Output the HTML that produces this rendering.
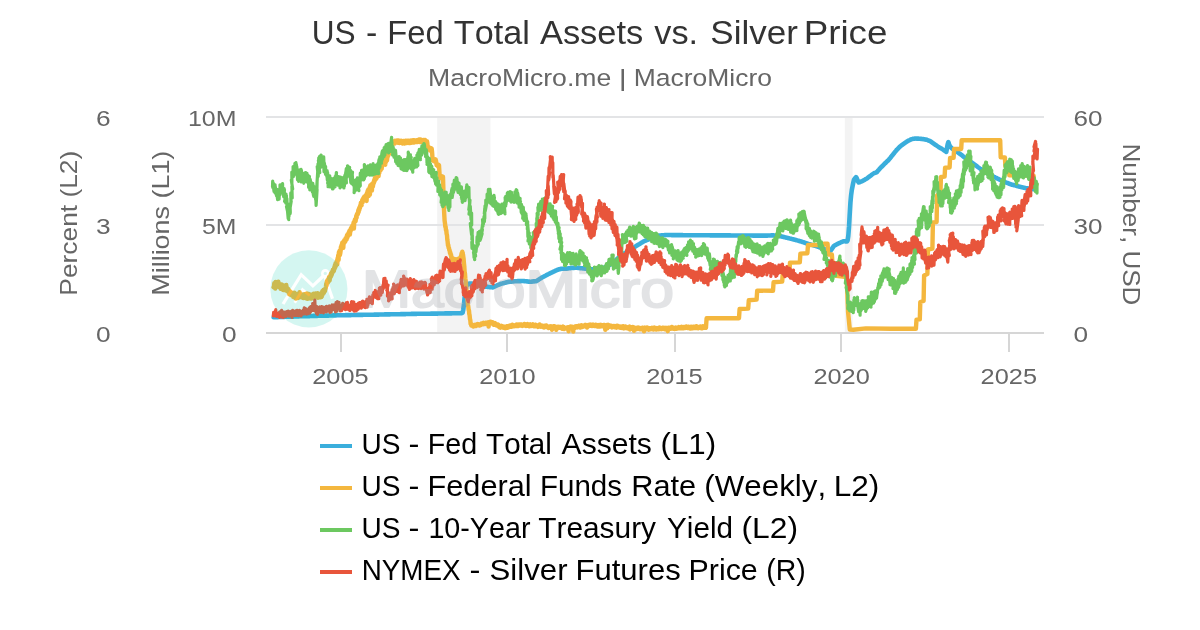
<!DOCTYPE html>
<html><head><meta charset="utf-8"><style>
html,body{margin:0;padding:0;background:#fff;width:1200px;height:630px;overflow:hidden}
svg{display:block;will-change:transform}
text{font-family:'Liberation Sans',sans-serif;font-kerning:none}
</style></head><body>
<svg width="1200" height="630" viewBox="0 0 1200 630">
<defs>
<mask id="mt" maskUnits="userSpaceOnUse" x="260" y="240" width="100" height="100">
<rect x="260" y="240" width="100" height="100" fill="#fff"/>
<polyline points="283,304 301.2,274.7 312.9,285.8 323.3,276" fill="none" stroke="#000" stroke-width="3.2"/>
<polyline points="324.6,276 332.5,298.8" fill="none" stroke="#000" stroke-width="3.2"/>
<circle cx="325.3" cy="273.4" r="3" fill="none" stroke="#000" stroke-width="2.6"/>
<polyline points="294.7,302.7 302.5,289.7 309.7,295.5" fill="none" stroke="#000" stroke-width="2.8"/>
</mask>
</defs>
<rect width="1200" height="630" fill="#ffffff"/>
<text x="311.76" y="44" font-size="33" fill="#333333" textLength="43.89" lengthAdjust="spacingAndGlyphs">US</text>
<text x="365.99" y="44" font-size="33" fill="#333333" textLength="11.32" lengthAdjust="spacingAndGlyphs">-</text>
<text x="387.31" y="44" font-size="33" fill="#333333" textLength="56.50" lengthAdjust="spacingAndGlyphs">Fed</text>
<text x="453.83" y="44" font-size="33" fill="#333333" textLength="75.95" lengthAdjust="spacingAndGlyphs">Total</text>
<text x="539.93" y="44" font-size="33" fill="#333333" textLength="103.31" lengthAdjust="spacingAndGlyphs">Assets</text>
<text x="654.38" y="44" font-size="33" fill="#333333" textLength="43.74" lengthAdjust="spacingAndGlyphs">vs.</text>
<text x="710.31" y="44" font-size="33" fill="#333333" textLength="87.57" lengthAdjust="spacingAndGlyphs">Silver</text>
<text x="803.68" y="44" font-size="33" fill="#333333" textLength="83.75" lengthAdjust="spacingAndGlyphs">Price</text>
<text x="428.12" y="86" font-size="24.5" fill="#666666" textLength="183.06" lengthAdjust="spacingAndGlyphs">MacroMicro.me</text>
<text x="618.74" y="86" font-size="24.5" fill="#666666" textLength="8.01" lengthAdjust="spacingAndGlyphs">|</text>
<text x="633.83" y="86" font-size="24.5" fill="#666666" textLength="138.08" lengthAdjust="spacingAndGlyphs">MacroMicro</text>
<!-- bands -->
<rect x="437.2" y="117" width="53.2" height="216" fill="#f3f3f3"/>
<rect x="844.8" y="117" width="7.8" height="216" fill="#f3f3f3"/>
<!-- grid -->
<g stroke="#e3e4e6" stroke-width="2">
<line x1="266" y1="117" x2="1044" y2="117"/>
<line x1="266" y1="225" x2="1044" y2="225"/>
</g>
<line x1="266" y1="333" x2="1044" y2="333" stroke="#d6d6d6" stroke-width="2"/>
<g stroke="#d6d6d6" stroke-width="2">
<line x1="341" y1="333" x2="341" y2="352"/>
<line x1="507" y1="333" x2="507" y2="352"/>
<line x1="675" y1="333" x2="675" y2="352"/>
<line x1="841" y1="333" x2="841" y2="352"/>
<line x1="1009" y1="333" x2="1009" y2="352"/>
</g>
<!-- series -->
<g fill="none" stroke-linejoin="round" stroke-linecap="round">
<polyline points="273.6,317.2 274.3,317.2 275.0,317.2 275.7,317.1 276.4,317.1 277.1,317.1 277.8,317.1 278.5,317.0 279.2,317.0 279.9,317.0 280.6,317.0 281.3,316.9 282.0,316.9 282.7,316.9 283.4,316.9 284.1,316.9 284.8,316.8 285.5,316.8 286.2,316.8 286.9,316.8 287.6,316.7 288.3,316.7 289.0,316.7 289.7,316.7 290.4,316.6 291.1,316.6 291.8,316.6 292.5,316.6 293.2,316.6 293.9,316.5 294.6,316.5 295.3,316.5 296.0,316.5 296.7,316.4 297.4,316.4 298.1,316.4 298.8,316.4 299.5,316.3 300.2,316.3 300.9,316.3 301.6,316.3 302.3,316.3 303.0,316.2 303.7,316.2 304.4,316.2 305.1,316.2 305.8,316.2 306.5,316.1 307.2,316.1 307.9,316.1 308.6,316.1 309.3,316.1 310.0,316.0 310.7,316.0 311.4,316.0 312.1,316.0 312.8,316.0 313.5,315.9 314.2,315.9 314.9,315.9 315.6,315.9 316.3,315.9 317.0,315.9 317.7,315.8 318.4,315.8 319.1,315.8 319.8,315.8 320.5,315.8 321.2,315.7 321.9,315.7 322.6,315.7 323.3,315.7 324.0,315.7 324.7,315.7 325.4,315.6 326.1,315.6 326.8,315.6 327.5,315.6 328.2,315.6 328.9,315.5 329.6,315.5 330.3,315.5 331.0,315.5 331.7,315.5 332.4,315.5 333.1,315.4 333.8,315.4 334.5,315.4 335.2,315.4 335.9,315.4 336.6,315.3 337.3,315.3 338.0,315.3 338.7,315.3 339.4,315.3 340.1,315.2 340.8,315.2 341.5,315.2 342.2,315.2 342.9,315.2 343.6,315.2 344.3,315.2 345.0,315.2 345.7,315.1 346.4,315.1 347.1,315.1 347.8,315.1 348.5,315.1 349.2,315.1 349.9,315.1 350.6,315.1 351.3,315.0 352.0,315.0 352.7,315.0 353.4,315.0 354.1,315.0 354.8,315.0 355.5,315.0 356.2,315.0 356.9,315.0 357.6,314.9 358.3,314.9 359.0,314.9 359.7,314.9 360.4,314.9 361.1,314.9 361.8,314.9 362.5,314.9 363.2,314.8 363.9,314.8 364.6,314.8 365.3,314.8 366.0,314.8 366.7,314.8 367.4,314.8 368.1,314.8 368.8,314.7 369.5,314.7 370.2,314.7 370.9,314.7 371.6,314.7 372.3,314.7 373.0,314.7 373.7,314.7 374.4,314.6 375.1,314.6 375.8,314.6 376.5,314.6 377.2,314.6 377.9,314.6 378.6,314.6 379.3,314.5 380.0,314.5 380.7,314.5 381.4,314.5 382.1,314.5 382.8,314.5 383.5,314.5 384.2,314.5 384.9,314.4 385.6,314.4 386.3,314.4 387.0,314.4 387.7,314.4 388.4,314.4 389.1,314.4 389.8,314.4 390.5,314.3 391.2,314.3 391.9,314.3 392.6,314.3 393.3,314.3 394.0,314.3 394.7,314.3 395.4,314.2 396.1,314.2 396.8,314.2 397.5,314.2 398.2,314.2 398.9,314.2 399.6,314.2 400.3,314.2 401.0,314.1 401.7,314.1 402.4,314.1 403.1,314.1 403.8,314.1 404.5,314.1 405.2,314.1 405.9,314.0 406.6,314.0 407.3,314.0 408.0,314.0 408.7,314.0 409.4,314.0 410.1,314.0 410.8,314.0 411.5,313.9 412.2,313.9 412.9,313.9 413.6,313.9 414.3,313.9 415.0,313.9 415.7,313.9 416.4,313.9 417.1,313.8 417.8,313.8 418.5,313.8 419.2,313.8 419.9,313.8 420.6,313.8 421.3,313.8 422.0,313.8 422.7,313.8 423.4,313.8 424.1,313.7 424.8,313.7 425.5,313.7 426.2,313.7 426.9,313.7 427.6,313.7 428.3,313.7 429.0,313.7 429.7,313.7 430.4,313.7 431.1,313.6 431.8,313.6 432.5,313.6 433.2,313.6 433.9,313.6 434.6,313.6 435.3,313.6 436.0,313.6 436.7,313.6 437.4,313.6 438.1,313.5 438.8,313.5 439.5,313.5 440.2,313.5 440.9,313.5 441.6,313.5 442.3,313.5 443.0,313.5 443.7,313.5 444.4,313.5 445.1,313.4 445.8,313.4 446.5,313.4 447.2,313.4 447.9,313.4 448.6,313.4 449.3,313.4 450.0,313.4 450.7,313.4 451.4,313.4 452.1,313.3 452.8,313.3 453.5,313.3 454.2,313.3 454.9,313.3 455.6,313.3 456.3,313.3 457.0,313.3 457.7,313.3 458.4,313.3 459.1,313.2 459.8,313.2 460.5,313.2 461.2,313.2 461.9,313.2 462.6,312.7 463.3,309.4 464.0,304.0 464.7,297.0 465.4,290.7 466.1,286.2 466.8,285.2 467.5,284.8 468.2,284.4 468.9,284.0 469.6,283.6 470.3,283.5 471.0,283.6 471.7,283.6 472.4,283.7 473.1,283.7 473.8,283.8 474.5,283.8 475.2,283.9 475.9,283.9 476.6,283.9 477.3,284.0 478.0,284.2 478.7,284.4 479.4,284.7 480.1,284.9 480.8,285.2 481.5,285.4 482.2,285.6 482.9,285.9 483.6,286.1 484.3,286.4 485.0,286.6 485.7,286.7 486.4,286.7 487.1,286.8 487.8,286.9 488.5,287.0 489.2,287.0 489.9,287.1 490.6,287.2 491.3,287.3 492.0,287.3 492.7,287.4 493.4,287.1 494.1,286.8 494.8,286.5 495.5,286.1 496.2,285.8 496.9,285.5 497.6,285.2 498.3,284.9 499.0,284.6 499.7,284.3 500.4,284.0 501.1,283.8 501.8,283.6 502.5,283.4 503.2,283.2 503.9,283.1 504.6,282.9 505.3,282.7 506.0,282.5 506.7,282.3 507.4,282.1 508.1,282.0 508.8,281.9 509.5,281.8 510.2,281.8 510.9,281.7 511.6,281.6 512.3,281.5 513.0,281.5 513.7,281.4 514.4,281.3 515.1,281.2 515.8,281.2 516.5,281.2 517.2,281.2 517.9,281.1 518.6,281.1 519.3,281.1 520.0,281.1 520.7,281.1 521.4,281.0 522.1,281.0 522.8,281.0 523.5,281.0 524.2,281.1 524.9,281.2 525.6,281.3 526.3,281.3 527.0,281.4 527.7,281.5 528.4,281.6 529.1,281.6 529.8,281.7 530.5,281.8 531.2,281.7 531.9,281.6 532.6,281.5 533.3,281.4 534.0,281.4 534.7,281.3 535.4,281.2 536.1,281.1 536.8,280.8 537.5,280.4 538.2,279.9 538.9,279.5 539.6,279.0 540.3,278.6 541.0,278.2 541.7,277.7 542.4,277.3 543.1,276.9 543.8,276.6 544.5,276.2 545.2,275.8 545.9,275.5 546.6,275.1 547.3,274.7 548.0,274.3 548.7,274.0 549.4,273.6 550.1,273.3 550.8,272.9 551.5,272.6 552.2,272.3 552.9,271.9 553.6,271.6 554.3,271.3 555.0,270.9 555.7,270.6 556.4,270.3 557.1,269.9 557.8,269.7 558.5,269.5 559.2,269.3 559.9,269.1 560.6,269.0 561.3,268.8 562.0,268.8 562.7,268.8 563.4,268.8 564.1,268.7 564.8,268.7 565.5,268.7 566.2,268.7 566.9,268.6 567.6,268.5 568.3,268.4 569.0,268.3 569.7,268.2 570.4,268.1 571.1,268.0 571.8,267.9 572.5,267.9 573.2,267.9 573.9,267.9 574.6,267.8 575.3,267.8 576.0,267.8 576.7,267.8 577.4,267.8 578.1,267.9 578.8,267.9 579.5,268.0 580.2,268.1 580.9,268.2 581.6,268.2 582.3,268.3 583.0,268.4 583.7,268.5 584.4,268.5 585.1,268.6 585.8,268.7 586.5,268.8 587.2,268.9 587.9,269.0 588.6,269.1 589.3,269.2 590.0,269.3 590.7,269.4 591.4,269.4 592.1,269.4 592.8,269.4 593.5,269.4 594.2,269.4 594.9,269.4 595.6,269.4 596.3,269.4 597.0,269.3 597.7,269.1 598.4,269.0 599.1,268.8 599.8,268.6 600.5,268.5 601.2,268.3 601.9,268.1 602.6,268.0 603.3,267.8 604.0,267.6 604.7,267.3 605.4,267.0 606.1,266.7 606.8,266.3 607.5,266.0 608.2,265.7 608.9,265.3 609.6,265.0 610.3,264.5 611.0,263.9 611.7,263.4 612.4,262.8 613.1,262.2 613.8,261.7 614.5,261.1 615.2,260.5 615.9,260.0 616.6,259.4 617.3,258.8 618.0,258.2 618.7,257.6 619.4,257.0 620.1,256.4 620.8,255.8 621.5,255.3 622.2,254.9 622.9,254.4 623.6,254.0 624.3,253.5 625.0,253.1 625.7,252.6 626.4,252.2 627.1,251.7 627.8,251.3 628.5,250.9 629.2,250.4 629.9,250.0 630.6,249.5 631.3,249.1 632.0,248.6 632.7,248.2 633.4,247.8 634.1,247.3 634.8,246.9 635.5,246.4 636.2,246.0 636.9,245.6 637.6,245.1 638.3,244.7 639.0,244.3 639.7,243.9 640.4,243.4 641.1,243.0 641.8,242.6 642.5,242.2 643.2,241.7 643.9,241.3 644.6,241.0 645.3,240.7 646.0,240.5 646.7,240.2 647.4,239.9 648.1,239.6 648.8,239.3 649.5,239.1 650.2,238.8 650.9,238.5 651.6,238.2 652.3,238.0 653.0,237.8 653.7,237.5 654.4,237.3 655.1,237.0 655.8,236.8 656.5,236.6 657.2,236.3 657.9,236.1 658.6,235.8 659.3,235.6 660.0,235.5 660.7,235.5 661.4,235.4 662.1,235.3 662.8,235.3 663.5,235.2 664.2,235.2 664.9,235.1 665.6,235.0 666.3,235.0 667.0,235.0 667.7,235.0 668.4,235.0 669.1,235.0 669.8,235.0 670.5,235.0 671.2,235.0 671.9,235.1 672.6,235.1 673.3,235.1 674.0,235.1 674.7,235.1 675.4,235.1 676.1,235.1 676.8,235.1 677.5,235.1 678.2,235.1 678.9,235.1 679.6,235.1 680.3,235.1 681.0,235.1 681.7,235.1 682.4,235.1 683.1,235.2 683.8,235.2 684.5,235.2 685.2,235.2 685.9,235.2 686.6,235.2 687.3,235.2 688.0,235.2 688.7,235.2 689.4,235.2 690.1,235.2 690.8,235.2 691.5,235.2 692.2,235.2 692.9,235.2 693.6,235.2 694.3,235.2 695.0,235.3 695.7,235.3 696.4,235.3 697.1,235.3 697.8,235.3 698.5,235.3 699.2,235.3 699.9,235.3 700.6,235.3 701.3,235.3 702.0,235.3 702.7,235.3 703.4,235.3 704.1,235.3 704.8,235.3 705.5,235.3 706.2,235.3 706.9,235.3 707.6,235.3 708.3,235.3 709.0,235.3 709.7,235.3 710.4,235.4 711.1,235.4 711.8,235.4 712.5,235.4 713.2,235.4 713.9,235.4 714.6,235.4 715.3,235.4 716.0,235.4 716.7,235.4 717.4,235.4 718.1,235.4 718.8,235.4 719.5,235.4 720.2,235.4 720.9,235.4 721.6,235.4 722.3,235.4 723.0,235.4 723.7,235.4 724.4,235.4 725.1,235.4 725.8,235.4 726.5,235.4 727.2,235.4 727.9,235.4 728.6,235.4 729.3,235.4 730.0,235.4 730.7,235.5 731.4,235.5 732.1,235.5 732.8,235.5 733.5,235.5 734.2,235.5 734.9,235.5 735.6,235.5 736.3,235.5 737.0,235.5 737.7,235.5 738.4,235.5 739.1,235.5 739.8,235.5 740.5,235.5 741.2,235.5 741.9,235.5 742.6,235.5 743.3,235.5 744.0,235.5 744.7,235.5 745.4,235.5 746.1,235.5 746.8,235.5 747.5,235.5 748.2,235.5 748.9,235.5 749.6,235.5 750.3,235.5 751.0,235.5 751.7,235.5 752.4,235.5 753.1,235.6 753.8,235.6 754.5,235.6 755.2,235.6 755.9,235.6 756.6,235.6 757.3,235.6 758.0,235.6 758.7,235.6 759.4,235.6 760.1,235.6 760.8,235.6 761.5,235.6 762.2,235.6 762.9,235.6 763.6,235.6 764.3,235.6 765.0,235.6 765.7,235.6 766.4,235.6 767.1,235.6 767.8,235.5 768.5,235.5 769.2,235.5 769.9,235.5 770.6,235.5 771.3,235.4 772.0,235.4 772.7,235.4 773.4,235.4 774.1,235.5 774.8,235.6 775.5,235.6 776.2,235.7 776.9,235.8 777.6,235.9 778.3,235.9 779.0,236.0 779.7,236.1 780.4,236.2 781.1,236.4 781.8,236.5 782.5,236.7 783.2,236.9 783.9,237.0 784.6,237.2 785.3,237.4 786.0,237.6 786.7,237.7 787.4,237.9 788.1,238.1 788.8,238.2 789.5,238.4 790.2,238.6 790.9,238.8 791.6,238.9 792.3,239.1 793.0,239.3 793.7,239.5 794.4,239.6 795.1,239.8 795.8,240.0 796.5,240.2 797.2,240.4 797.9,240.6 798.6,240.8 799.3,241.0 800.0,241.2 800.7,241.3 801.4,241.6 802.1,241.8 802.8,242.1 803.5,242.3 804.2,242.5 804.9,242.8 805.6,243.0 806.3,243.3 807.0,243.5 807.7,243.7 808.4,243.9 809.1,244.1 809.8,244.3 810.5,244.5 811.2,244.7 811.9,244.9 812.6,245.1 813.3,245.3 814.0,245.5 814.7,245.6 815.4,245.9 816.1,246.1 816.8,246.4 817.5,246.6 818.2,246.9 818.9,247.1 819.6,247.4 820.3,247.6 821.0,247.9 821.7,248.1 822.4,248.4 823.1,248.7 823.8,248.9 824.5,249.2 825.2,249.5 825.9,249.8 826.6,250.0 827.3,250.3 828.0,250.6 828.7,250.7 829.4,250.7 830.1,250.8 830.8,250.5 831.5,249.5 832.2,248.4 832.9,247.4 833.6,246.3 834.3,245.7 835.0,245.3 835.7,244.9 836.4,244.5 837.1,244.2 837.8,243.8 838.5,243.4 839.2,243.1 839.9,242.8 840.6,242.5 841.3,242.2 842.0,241.9 842.7,241.6 843.4,241.2 844.1,241.2 844.8,241.3 845.5,241.4 846.2,241.4 846.9,241.5 847.6,240.3 848.3,235.9 849.0,227.0 849.7,214.4 850.4,202.8 851.1,195.3 851.8,190.0 852.5,186.5 853.2,183.0 853.9,179.9 854.6,178.9 855.3,178.0 856.0,177.1 856.7,178.1 857.4,179.8 858.1,181.6 858.8,182.5 859.5,182.2 860.2,182.0 860.9,181.7 861.6,181.4 862.3,181.1 863.0,180.7 863.7,180.3 864.4,179.9 865.1,179.5 865.8,179.1 866.5,178.7 867.2,178.3 867.9,177.7 868.6,177.2 869.3,176.7 870.0,176.1 870.7,175.6 871.4,175.1 872.1,174.5 872.8,174.0 873.5,173.5 874.2,173.2 874.9,172.9 875.6,172.7 876.3,172.4 877.0,172.0 877.7,171.1 878.4,170.3 879.1,169.5 879.8,168.6 880.5,167.9 881.2,167.2 881.9,166.5 882.6,165.8 883.3,165.1 884.0,164.4 884.7,163.7 885.4,163.0 886.1,162.3 886.8,161.6 887.5,161.0 888.2,160.3 888.9,159.6 889.6,158.7 890.3,157.9 891.0,157.0 891.7,156.1 892.4,155.3 893.1,154.4 893.8,153.5 894.5,152.6 895.2,151.7 895.9,150.9 896.6,150.0 897.3,149.3 898.0,148.6 898.7,147.9 899.4,147.2 900.1,146.5 900.8,145.9 901.5,145.4 902.2,144.9 902.9,144.3 903.6,143.8 904.3,143.3 905.0,142.8 905.7,142.3 906.4,141.9 907.1,141.4 907.8,141.0 908.5,140.6 909.2,140.3 909.9,140.0 910.6,139.6 911.3,139.3 912.0,139.1 912.7,138.9 913.4,138.8 914.1,138.7 914.8,138.6 915.5,138.5 916.2,138.5 916.9,138.6 917.6,138.6 918.3,138.6 919.0,138.7 919.7,138.7 920.4,138.8 921.1,138.9 921.8,139.0 922.5,139.0 923.2,139.1 923.9,139.2 924.6,139.4 925.3,139.5 926.0,139.6 926.7,139.7 927.4,140.0 928.1,140.3 928.8,140.6 929.5,140.9 930.2,141.2 930.9,141.6 931.6,142.1 932.3,142.6 933.0,143.1 933.7,143.6 934.4,144.1 935.1,144.6 935.8,145.1 936.5,145.5 937.2,146.0 937.9,146.5 938.6,147.0 939.3,147.4 940.0,147.8 940.7,148.2 941.4,148.6 942.1,149.0 942.8,149.5 943.5,150.0 944.2,150.4 944.9,150.9 945.6,151.3 946.3,151.8 947.0,148.0 947.7,144.2 948.4,142.1 949.1,144.3 949.8,145.9 950.5,146.8 951.2,147.7 951.9,148.4 952.6,148.9 953.3,149.3 954.0,149.8 954.7,150.2 955.4,150.7 956.1,151.2 956.8,151.6 957.5,152.1 958.2,152.6 958.9,153.1 959.6,153.6 960.3,154.2 961.0,154.7 961.7,155.2 962.4,155.7 963.1,156.3 963.8,156.8 964.5,157.3 965.2,157.8 965.9,158.3 966.6,158.8 967.3,159.3 968.0,159.8 968.7,160.3 969.4,160.8 970.1,161.3 970.8,161.8 971.5,162.3 972.2,162.8 972.9,163.3 973.6,163.9 974.3,164.4 975.0,164.9 975.7,165.4 976.4,165.9 977.1,166.4 977.8,167.0 978.5,167.5 979.2,168.0 979.9,168.5 980.6,169.0 981.3,169.4 982.0,169.9 982.7,170.3 983.4,170.8 984.1,171.2 984.8,171.7 985.5,172.2 986.2,172.6 986.9,173.1 987.6,173.5 988.3,173.9 989.0,174.3 989.7,174.6 990.4,175.0 991.1,175.3 991.8,175.7 992.5,176.1 993.2,176.4 993.9,176.8 994.6,177.1 995.3,177.5 996.0,177.8 996.7,178.2 997.4,178.5 998.1,178.9 998.8,179.2 999.5,179.6 1000.2,179.9 1000.9,180.3 1001.6,180.6 1002.3,181.0 1003.0,181.3 1003.7,181.6 1004.4,181.9 1005.1,182.2 1005.8,182.4 1006.5,182.7 1007.2,182.9 1007.9,183.2 1008.6,183.5 1009.3,183.7 1010.0,184.0 1010.7,184.3 1011.4,184.5 1012.1,184.7 1012.8,184.9 1013.5,185.0 1014.2,185.2 1014.9,185.4 1015.6,185.6 1016.3,185.8 1017.0,186.0 1017.7,186.2 1018.4,186.4 1019.1,186.6 1019.8,186.7 1020.5,186.9 1021.2,187.1 1021.9,187.2 1022.6,187.4 1023.3,187.6 1024.0,187.7 1024.7,187.9 1025.4,188.1 1026.1,188.2 1026.8,188.3 1027.5,188.4 1028.2,188.5 1028.9,188.6 1029.6,188.7 1030.3,188.8 1031.0,188.9 1031.7,188.9 1032.4,189.0 1033.1,189.1 1033.8,189.2 1034.5,189.3 1035.2,189.4 1035.5,189.4" stroke="#3aaedc" stroke-width="4.6"/>
<polyline points="273.6,287.2 273.9,287.5 274.3,283.1 274.6,286.0 274.9,283.5 275.3,288.6 275.6,281.9 275.9,285.9 276.3,283.8 276.6,286.4 276.9,282.8 277.3,285.4 277.6,282.2 277.9,285.5 278.3,281.6 278.6,285.6 278.9,283.1 279.3,287.2 279.6,284.3 279.9,286.9 280.3,285.0 280.6,288.9 280.9,285.3 281.3,288.3 281.6,284.5 281.9,289.2 282.3,286.5 282.6,288.4 282.9,285.2 283.3,290.1 283.6,285.8 283.9,289.3 284.3,287.1 284.6,289.7 284.9,287.4 285.3,289.8 285.6,287.5 285.9,290.6 286.3,285.0 286.6,290.4 286.9,287.5 287.3,291.0 287.6,289.2 287.9,291.3 288.3,289.0 288.6,292.8 288.9,290.5 289.3,294.2 289.6,290.9 289.9,293.8 290.3,291.7 290.6,294.7 290.9,292.3 291.3,295.1 291.6,292.6 291.9,295.5 292.3,292.9 292.6,294.7 292.9,293.4 293.3,296.9 293.6,292.9 293.9,297.3 294.3,292.7 294.6,297.2 294.9,293.1 295.3,296.6 295.6,294.4 295.9,298.5 296.3,294.6 296.6,297.1 296.9,294.5 297.3,297.2 297.6,293.9 297.9,298.1 298.3,295.1 298.6,297.8 298.9,294.9 299.3,297.1 299.6,292.1 299.9,296.7 300.3,294.6 300.6,296.5 300.9,294.7 301.3,297.2 301.6,295.3 301.9,297.1 302.3,294.7 302.6,297.2 302.9,294.7 303.3,298.1 303.6,294.8 303.9,297.5 304.3,294.2 304.6,297.4 304.9,294.7 305.3,296.6 305.6,295.0 305.9,298.4 306.3,294.6 306.6,298.0 306.9,293.5 307.3,298.8 307.6,294.6 307.9,298.0 308.3,295.5 308.6,298.5 308.9,293.9 309.3,296.8 309.6,294.4 309.9,297.7 310.3,294.6 310.6,298.6 310.9,295.5 311.3,298.5 311.6,294.7 311.9,297.0 312.3,294.5 312.6,296.9 312.9,294.9 313.3,297.1 313.6,293.7 313.9,297.5 314.3,294.2 314.6,296.1 314.9,293.9 315.3,297.5 315.6,293.5 315.9,296.4 316.3,294.0 316.6,297.1 316.9,294.5 317.3,297.1 317.6,293.3 317.9,297.8 318.3,293.4 318.6,296.8 318.9,294.2 319.3,296.5 319.6,294.4 319.9,297.3 320.3,293.9 320.6,297.2 320.9,293.6 321.3,297.1 321.6,293.3 321.9,296.3 322.3,291.2 322.6,294.5 322.9,290.6 323.3,292.7 323.6,289.7 323.9,292.9 324.3,289.4 324.6,289.9 324.9,291.2 325.3,289.0 325.6,288.5 325.9,287.1 326.3,283.4 326.6,285.3 326.9,281.2 327.3,282.8 327.6,280.0 327.9,282.8 328.3,279.9 328.6,281.6 328.9,277.3 329.3,279.9 329.6,280.6 329.9,277.7 330.3,275.5 330.6,277.0 330.9,273.6 331.3,276.1 331.6,272.7 331.9,274.4 332.3,271.4 332.6,272.5 332.9,269.7 333.3,271.3 333.6,269.3 333.9,270.9 334.3,267.3 334.6,268.9 334.9,265.2 335.3,267.3 335.6,263.2 335.9,265.8 336.3,265.1 336.6,263.7 336.9,260.7 337.3,264.3 337.6,258.1 337.9,258.5 338.3,255.1 338.6,259.8 338.9,252.2 339.3,253.8 339.6,250.7 339.9,255.2 340.3,253.1 340.6,250.9 340.9,246.9 341.3,249.0 341.6,244.9 341.9,246.2 342.3,242.6 342.6,245.0 342.9,242.1 343.3,247.9 343.6,242.2 343.9,243.4 344.3,240.1 344.6,242.6 344.9,239.9 345.3,241.5 345.6,238.1 345.9,240.0 346.3,238.1 346.6,239.7 346.9,235.4 347.3,237.7 347.6,234.2 347.9,236.4 348.3,234.3 348.6,234.5 348.9,232.0 349.3,234.3 349.6,230.4 349.9,234.6 350.3,230.2 350.6,231.3 350.9,228.1 351.3,229.4 351.6,227.2 351.9,229.0 352.3,225.7 352.6,227.4 352.9,224.9 353.3,225.5 353.6,222.4 353.9,228.6 354.3,221.5 354.6,222.4 354.9,219.4 355.3,220.6 355.6,221.1 355.9,218.9 356.3,215.8 356.6,217.7 356.9,214.1 357.3,214.9 357.6,213.0 357.9,213.9 358.3,210.3 358.6,212.2 358.9,208.6 359.3,209.9 359.6,207.1 359.9,208.2 360.3,205.2 360.6,206.0 360.9,202.7 361.3,204.3 361.6,205.4 361.9,202.4 362.3,199.9 362.6,202.3 362.9,199.0 363.3,200.5 363.6,197.6 363.9,199.4 364.3,196.5 364.6,199.7 364.9,196.3 365.3,197.9 365.6,195.7 365.9,197.9 366.3,194.5 366.6,201.0 366.9,193.1 367.3,195.1 367.6,191.0 367.9,193.5 368.3,189.5 368.6,196.1 368.9,189.4 369.3,190.7 369.6,187.5 369.9,194.7 370.3,185.4 370.6,188.1 370.9,184.9 371.3,190.9 371.6,184.4 371.9,190.6 372.3,183.8 372.6,185.7 372.9,186.6 373.3,183.4 373.6,181.8 373.9,183.1 374.3,179.7 374.6,181.4 374.9,178.0 375.3,179.2 375.6,176.0 375.9,179.2 376.3,176.1 376.6,178.2 376.9,174.9 377.3,176.6 377.6,173.1 377.9,175.2 378.3,172.0 378.6,176.0 378.9,171.0 379.3,173.0 379.6,169.8 379.9,170.8 380.3,168.6 380.6,170.4 380.9,167.0 381.3,168.6 381.6,168.8 382.0,166.3 382.3,163.5 382.6,164.6 383.0,162.3 383.3,164.7 383.6,162.1 384.0,162.9 384.3,159.7 384.6,162.1 385.0,159.2 385.3,164.7 385.6,157.7 386.0,161.8 386.3,156.7 386.6,157.5 387.0,160.6 387.3,157.7 387.6,154.3 388.0,156.3 388.3,153.8 388.6,155.0 389.0,152.3 389.3,153.4 389.6,150.9 390.0,150.9 390.3,148.2 390.6,148.2 391.0,145.9 391.3,146.4 391.6,144.5 392.0,145.4 392.3,142.1 392.6,143.5 393.0,141.7 393.3,143.4 393.6,141.7 394.0,143.3 394.3,142.0 394.6,143.6 395.0,140.6 395.3,142.1 395.6,141.4 396.0,142.7 396.3,141.1 396.6,142.1 397.0,140.4 397.3,142.3 397.6,140.7 398.0,142.7 398.3,141.2 398.6,142.4 399.0,140.6 399.3,143.0 399.6,141.7 400.0,142.7 400.3,141.2 400.6,142.9 401.0,140.7 401.3,142.1 401.6,140.9 402.0,142.8 402.3,142.0 402.6,143.5 403.0,142.3 403.3,142.9 403.6,141.0 404.0,142.8 404.3,142.0 404.6,143.5 405.0,141.1 405.3,142.6 405.6,140.6 406.0,143.1 406.3,141.8 406.6,143.1 407.0,140.6 407.3,142.2 407.6,141.0 408.0,142.4 408.3,140.6 408.6,142.2 409.0,141.3 409.3,143.0 409.6,140.9 410.0,143.0 410.3,140.8 410.6,142.9 411.0,140.5 411.3,142.7 411.6,141.1 412.0,142.5 412.3,140.7 412.6,142.4 413.0,140.3 413.3,141.8 413.6,140.1 414.0,142.6 414.3,141.0 414.6,142.0 415.0,140.4 415.3,142.1 415.6,140.7 416.0,142.0 416.3,140.4 416.6,141.9 417.0,140.6 417.3,142.1 417.6,140.4 418.0,141.8 418.3,139.9 418.6,141.6 419.0,139.5 419.3,141.3 419.6,139.7 420.0,142.1 420.3,140.0 420.6,141.6 421.0,139.6 421.3,141.4 421.6,140.0 422.0,142.1 422.3,140.3 422.6,141.5 423.0,140.6 423.3,141.7 423.6,139.9 424.0,142.2 424.3,140.2 424.6,142.1 425.0,140.0 425.3,142.2 425.6,140.8 426.0,142.2 426.3,141.2 426.6,141.9 427.0,141.2 427.3,142.9 427.6,146.4 428.0,149.6 428.3,147.9 428.6,149.1 429.0,147.1 429.3,149.7 429.6,148.6 430.0,150.6 430.3,148.5 430.6,150.0 431.0,148.2 431.3,149.5 431.6,148.3 432.0,151.4 432.3,155.1 432.6,160.5 433.0,158.5 433.3,160.3 433.6,159.3 434.0,161.3 434.3,159.4 434.6,160.6 435.0,159.5 435.3,161.2 435.6,159.3 436.0,160.8 436.3,162.8 436.6,165.1 437.0,164.3 437.3,165.5 437.6,164.9 438.0,166.4 438.3,164.6 438.6,166.6 439.0,165.2 439.3,170.3 439.6,174.7 440.0,177.9 440.3,175.8 440.6,178.1 441.0,176.0 441.3,178.0 441.6,176.4 442.0,178.7 442.3,177.3 442.6,178.6 443.0,176.7 443.3,186.5 443.6,199.6 444.0,209.4 444.3,215.4 444.6,220.7 445.0,223.3 445.3,226.9 445.6,226.5 446.0,230.4 446.3,230.3 446.6,233.7 447.0,235.3 447.3,239.6 447.6,241.5 448.0,245.5 448.3,245.0 448.6,247.7 449.0,248.1 449.3,250.2 449.6,250.1 450.0,253.1 450.3,252.3 450.6,254.7 451.0,254.5 451.3,257.4 451.6,256.7 452.0,259.2 452.3,258.3 452.6,260.2 453.0,258.6 453.3,260.2 453.6,259.2 454.0,260.6 454.3,259.0 454.6,260.7 455.0,259.3 455.3,261.5 455.6,260.2 456.0,261.2 456.3,259.4 456.6,261.3 457.0,259.3 457.3,260.3 457.6,258.9 458.0,259.3 458.3,258.7 458.6,259.6 459.0,258.9 459.3,260.2 459.6,258.1 460.0,258.5 460.3,257.4 460.6,258.1 461.0,255.9 461.3,255.3 461.6,253.2 462.0,253.8 462.3,251.7 462.6,253.1 463.0,254.5 463.3,256.8 463.6,258.9 464.0,263.6 464.3,266.5 464.6,271.6 465.0,273.7 465.3,278.2 465.6,280.3 466.0,285.3 466.3,288.5 466.6,292.5 467.0,294.1 467.3,298.0 467.6,300.5 468.0,304.8 468.3,306.6 468.6,309.6 469.0,310.6 469.3,314.2 469.6,315.2 470.0,319.2 470.3,320.1 470.6,323.7 471.0,324.1 471.3,325.5 471.6,324.7 472.0,325.6 472.3,324.9 472.6,325.7 473.0,325.2 473.3,326.5 473.6,325.9 474.0,326.2 474.3,324.9 474.6,325.5 475.0,325.1 475.3,325.4 475.6,325.2 476.0,326.0 476.3,325.3 476.6,325.3 477.0,324.4 477.3,325.5 477.6,324.1 478.0,324.9 478.3,324.7 478.6,325.0 479.0,324.2 479.3,325.5 479.6,325.0 480.0,325.2 480.3,324.2 480.6,325.2 481.0,323.9 481.3,324.2 481.6,323.4 482.0,324.3 482.3,323.5 482.6,323.9 483.0,323.5 483.3,324.3 483.6,322.8 484.0,323.7 484.3,323.2 484.6,323.6 485.0,323.0 485.3,323.9 485.6,322.8 486.0,323.8 486.3,322.7 486.6,323.6 487.0,322.9 487.3,323.7 487.6,322.5 488.0,322.7 488.3,322.3 488.6,326.6 489.0,322.6 489.3,323.1 489.6,322.4 490.0,323.1 490.3,321.8 490.6,322.9 491.0,321.8 491.3,322.5 491.6,322.2 492.0,323.1 492.3,322.2 492.6,323.7 493.0,323.1 493.3,324.6 493.6,324.1 494.0,324.8 494.3,323.6 494.6,324.3 495.0,323.0 495.3,323.9 495.6,323.7 496.0,325.1 496.3,324.9 496.6,325.4 497.0,324.9 497.3,325.2 497.6,324.6 498.0,325.1 498.3,324.7 498.6,326.3 499.0,325.5 499.3,327.2 499.6,325.9 500.0,326.5 500.3,325.8 500.6,327.7 501.0,326.3 501.3,327.3 501.6,325.8 502.0,326.9 502.3,326.4 502.6,327.4 503.0,326.8 503.3,327.1 503.6,326.6 504.0,327.7 504.3,327.3 504.6,327.8 505.0,326.8 505.3,328.2 505.6,326.9 506.0,327.9 506.3,327.1 506.6,327.2 507.0,326.2 507.3,327.0 507.6,326.2 508.0,327.7 508.3,327.0 508.6,327.0 509.0,326.0 509.3,327.1 509.6,326.1 510.0,326.8 510.3,325.4 510.6,326.4 511.0,326.0 511.3,326.7 511.6,325.2 512.0,326.6 512.3,324.7 512.6,325.9 513.0,325.4 513.3,326.2 513.6,325.4 514.0,326.2 514.3,325.7 514.6,325.7 515.0,325.3 515.3,326.0 515.6,325.1 516.0,326.0 516.3,325.0 516.6,325.4 517.0,324.5 517.3,325.6 517.6,324.9 518.0,326.1 518.3,324.7 518.6,325.8 519.0,324.5 519.3,325.1 519.6,324.7 520.0,325.3 520.3,324.9 520.6,325.5 521.0,324.5 521.3,325.4 521.6,324.6 522.0,325.3 522.3,325.3 522.6,325.9 523.0,324.9 523.3,325.3 523.6,324.5 524.0,325.2 524.3,324.0 524.6,324.8 525.0,324.1 525.3,325.7 525.6,324.7 526.0,325.9 526.3,325.3 526.6,325.8 527.0,324.9 527.3,325.1 527.6,324.0 528.0,325.5 528.3,324.8 528.6,325.8 529.0,325.6 529.3,326.2 529.6,325.0 530.0,325.4 530.3,324.3 530.6,325.0 531.0,325.1 531.3,326.0 531.6,325.0 532.0,325.5 532.3,325.0 532.6,324.9 533.0,324.3 533.3,325.5 533.6,325.2 534.0,326.3 534.3,325.2 534.6,325.1 535.0,325.0 535.3,326.3 535.6,324.8 536.0,325.9 536.3,325.1 536.6,326.1 537.0,325.5 537.3,326.2 537.6,325.4 538.0,326.9 538.3,326.2 538.6,326.5 539.0,325.0 539.3,325.8 539.6,324.4 540.0,325.6 540.3,325.5 540.6,326.7 541.0,325.5 541.3,326.3 541.6,325.9 542.0,326.3 542.3,325.7 542.6,326.9 543.0,325.8 543.3,327.1 543.6,326.4 544.0,327.4 544.3,326.1 544.6,326.7 545.0,325.8 545.3,327.1 545.6,325.7 546.0,326.9 546.3,325.5 546.6,326.6 547.0,326.2 547.3,327.1 547.6,326.7 548.0,327.5 548.3,327.1 548.6,328.0 549.0,326.4 549.3,327.8 549.6,326.7 550.0,327.6 550.3,326.4 550.6,327.1 551.0,326.3 551.3,326.7 551.6,326.5 552.0,329.7 552.3,326.9 552.6,327.3 553.0,326.6 553.3,326.7 553.6,326.2 554.0,327.1 554.3,326.2 554.6,326.8 555.0,326.5 555.3,327.6 555.6,327.4 556.0,327.8 556.3,329.9 556.6,328.1 557.0,327.1 557.3,327.8 557.6,327.4 558.0,327.5 558.3,326.8 558.6,327.7 559.0,327.1 559.3,327.7 559.6,326.9 560.0,327.6 560.3,327.3 560.6,327.7 561.0,327.1 561.3,327.8 561.6,327.6 562.0,328.6 562.3,327.3 562.6,327.7 563.0,326.6 563.3,328.2 563.6,327.5 564.0,329.0 564.3,327.9 564.6,328.4 565.0,327.6 565.3,328.5 565.6,328.2 566.0,328.5 566.3,328.0 566.6,328.4 567.0,328.0 567.3,328.7 567.6,327.3 568.0,327.9 568.3,327.7 568.6,331.3 569.0,327.7 569.3,328.4 569.6,327.1 570.0,328.2 570.3,327.2 570.6,327.6 571.0,326.6 571.3,328.0 571.6,326.7 572.0,327.8 572.3,327.2 572.6,328.2 573.0,327.0 573.3,331.6 573.6,327.1 574.0,328.3 574.3,326.9 574.6,328.2 575.0,326.6 575.3,327.3 575.6,326.4 576.0,327.0 576.3,326.3 576.6,326.8 577.0,326.4 577.3,327.5 577.6,326.3 578.0,327.1 578.3,326.1 578.6,326.9 579.0,325.7 579.3,327.3 579.6,326.8 580.0,327.3 580.3,326.7 580.6,327.5 581.0,326.1 581.3,325.9 581.6,325.2 582.0,325.9 582.3,325.9 582.6,326.9 583.0,325.8 583.3,326.4 583.6,325.9 584.0,326.3 584.3,325.4 584.6,325.9 585.0,325.0 585.3,326.2 585.6,324.9 586.0,326.0 586.3,325.8 586.6,325.7 587.0,327.6 587.3,326.1 587.6,325.6 588.0,326.2 588.3,324.9 588.6,326.0 589.0,325.0 589.3,325.9 589.6,325.3 590.0,325.7 590.3,324.6 590.6,325.6 591.0,325.0 591.3,325.7 591.6,325.2 592.0,326.0 592.3,324.8 592.6,325.3 593.0,324.7 593.3,325.5 593.6,324.9 594.0,325.4 594.3,325.0 594.6,326.0 595.0,325.1 595.3,325.9 595.6,324.7 596.0,325.9 596.3,325.3 596.6,325.9 597.0,325.4 597.3,326.4 597.6,325.3 598.0,326.4 598.3,325.1 598.7,325.7 599.0,325.3 599.3,326.1 599.7,324.9 600.0,326.6 600.3,325.6 600.7,326.2 601.0,324.8 601.3,326.1 601.7,325.4 602.0,326.3 602.3,325.7 602.7,326.1 603.0,325.4 603.3,326.1 603.7,324.9 604.0,326.2 604.3,324.9 604.7,326.6 605.0,325.2 605.3,329.8 605.7,326.0 606.0,327.2 606.3,326.2 606.7,326.5 607.0,325.1 607.3,328.4 607.7,325.6 608.0,326.3 608.3,324.8 608.7,326.2 609.0,325.8 609.3,326.4 609.7,325.9 610.0,326.6 610.3,325.7 610.7,326.1 611.0,325.8 611.3,326.5 611.7,326.4 612.0,327.4 612.3,326.1 612.7,326.9 613.0,326.2 613.3,326.6 613.7,326.0 614.0,326.8 614.3,326.3 614.7,327.2 615.0,326.1 615.3,326.9 615.7,326.2 616.0,327.5 616.3,326.7 616.7,327.6 617.0,325.8 617.3,327.0 617.7,325.8 618.0,327.0 618.3,326.5 618.7,327.1 619.0,326.3 619.3,327.3 619.7,326.7 620.0,327.6 620.3,327.1 620.7,327.8 621.0,326.6 621.3,327.8 621.7,327.2 622.0,327.9 622.3,327.2 622.7,327.2 623.0,326.2 623.3,326.8 623.7,326.9 624.0,328.4 624.3,326.9 624.7,327.6 625.0,326.8 625.3,327.8 625.7,326.5 626.0,327.7 626.3,326.8 626.7,328.0 627.0,327.4 627.3,328.3 627.7,327.6 628.0,328.4 628.3,327.2 628.7,327.8 629.0,327.6 629.3,328.0 629.7,326.6 630.0,329.5 630.3,327.5 630.7,328.5 631.0,328.4 631.3,328.7 631.7,327.5 632.0,328.5 632.3,327.4 632.7,327.7 633.0,327.0 633.3,328.1 633.7,327.2 634.0,330.7 634.3,327.6 634.7,328.3 635.0,329.5 635.3,328.7 635.7,328.1 636.0,328.9 636.3,327.8 636.7,329.2 637.0,328.1 637.3,328.3 637.7,327.8 638.0,328.2 638.3,327.5 638.7,328.8 639.0,327.9 639.3,328.9 639.7,328.2 640.0,329.3 640.3,328.1 640.7,328.6 641.0,328.4 641.3,329.3 641.7,327.9 642.0,328.5 642.3,327.7 642.7,328.5 643.0,327.7 643.3,328.9 643.7,328.2 644.0,331.2 644.3,327.7 644.7,329.4 645.0,327.7 645.3,329.2 645.7,328.5 646.0,329.3 646.3,328.6 646.7,329.1 647.0,327.4 647.3,328.6 647.7,327.7 648.0,329.1 648.3,328.8 648.7,329.7 649.0,328.5 649.3,328.8 649.7,328.3 650.0,329.1 650.3,328.4 650.7,329.2 651.0,328.4 651.3,328.7 651.7,328.0 652.0,328.6 652.3,327.9 652.7,329.1 653.0,328.2 653.3,329.6 653.7,328.3 654.0,328.3 654.3,327.5 654.7,328.8 655.0,328.7 655.3,329.2 655.7,328.8 656.0,329.6 656.3,328.1 656.7,328.7 657.0,328.3 657.3,328.6 657.7,328.5 658.0,329.1 658.3,327.9 658.7,329.3 659.0,328.3 659.3,328.6 659.7,327.6 660.0,328.3 660.3,327.7 660.7,329.1 661.0,328.2 661.3,329.1 661.7,328.4 662.0,329.1 662.3,328.0 662.7,328.8 663.0,327.7 663.3,328.7 663.7,327.8 664.0,328.9 664.3,328.7 664.7,329.3 665.0,327.9 665.3,328.7 665.7,328.0 666.0,328.6 666.3,327.9 666.7,329.0 667.0,328.2 667.3,329.0 667.7,331.2 668.0,328.8 668.3,327.7 668.7,328.7 669.0,327.7 669.3,328.9 669.7,328.1 670.0,328.7 670.3,327.9 670.7,328.7 671.0,327.8 671.3,328.3 671.7,327.0 672.0,328.1 672.3,327.0 672.7,328.0 673.0,327.6 673.3,328.8 673.7,327.9 674.0,328.8 674.3,328.0 674.7,329.0 675.0,327.8 675.3,328.2 675.7,327.6 676.0,328.5 676.3,327.9 676.7,328.6 677.0,327.7 677.3,328.6 677.7,327.8 678.0,328.1 678.3,327.7 678.7,327.7 679.0,327.1 679.3,328.3 679.7,327.6 680.0,328.3 680.3,327.9 680.7,328.2 681.0,327.0 681.3,328.0 681.7,326.8 682.0,328.2 682.3,327.1 682.7,328.3 683.0,327.2 683.3,327.7 683.7,327.1 684.0,328.2 684.3,327.2 684.7,327.7 685.0,327.1 685.3,328.0 685.7,326.9 686.0,327.8 686.3,326.5 686.7,327.5 687.0,326.9 687.3,327.6 687.7,327.5 688.0,328.0 688.3,327.0 688.7,328.1 689.0,326.8 689.3,328.2 689.7,327.8 690.0,328.6 690.3,327.5 690.7,328.0 691.0,326.7 691.3,328.0 691.7,326.9 692.0,328.4 692.3,327.4 692.7,328.2 693.0,327.7 693.3,327.6 693.7,326.8 694.0,327.8 694.3,326.8 694.7,328.0 695.0,327.6 695.3,327.9 695.7,327.1 696.0,327.8 696.3,326.2 696.7,327.9 697.0,326.5 697.3,327.5 697.7,327.1 698.0,328.2 698.3,327.5 698.7,328.2 699.0,327.2 699.3,327.7 699.7,327.0 700.0,327.7 700.3,326.5 700.7,327.7 701.0,326.9 701.3,328.3 701.7,328.1 702.0,328.3 702.3,327.3 702.7,328.1 703.0,326.3 703.3,327.5 703.7,326.5 704.0,327.5 704.3,327.2 704.7,327.7 705.0,326.2 705.3,327.1 705.7,326.8 706.0,327.8 706.0,327.2 706.6,318.3 739.0,318.2 739.6,309.0 748.2,308.6 748.8,300.2 756.6,299.6 757.2,290.6 773.0,290.8 773.6,282.2 782.2,281.6 782.8,272.4 789.4,272.2 790.0,262.6 799.8,262.4 800.4,253.6 807.4,253.2 808.0,245.0 823.6,245.0 824.2,243.8 827.6,243.8 828.1,254.5 831.9,254.5 832.4,263.5 835.6,263.8 836.1,275.8 842.8,276.5 846.5,277.2 847.2,290.0 848.1,312.3 849.8,329.6 853.3,329.8 866.0,328.4 890.8,328.8 915.9,328.8 916.5,319.6 919.8,319.4 920.3,302.0 923.6,301.0 924.1,275.5 927.4,274.0 927.9,249.5 932.4,248.6 932.9,222.4 936.6,222.0 937.1,195.3 940.4,195.0 940.9,177.0 944.6,176.6 945.1,167.6 949.6,167.5 950.1,157.9 953.6,157.9 954.1,149.0 961.2,149.0 961.7,140.2 1000.2,140.2 1000.7,157.4 1004.9,157.4 1005.4,166.4 1008.8,166.6 1009.3,175.4 1033.6,175.6 1034.1,184.5 1036.5,184.6" stroke="#f4b73e" stroke-width="4.4"/>
<polyline points="272.7,181.0 272.5,187.2 272.8,182.4 274.1,189.8 273.5,184.1 273.8,190.1 273.5,183.4 274.0,191.4 275.1,184.9 275.1,193.1 274.6,187.6 276.2,193.2 275.4,187.0 276.5,195.7 276.8,191.2 277.2,195.9 276.8,189.4 277.9,195.0 277.6,190.3 277.3,198.0 278.1,189.8 278.7,197.2 279.2,191.3 277.6,199.6 277.8,191.5 279.1,199.2 279.5,189.0 278.6,194.9 280.6,185.9 280.0,194.8 280.0,184.8 280.4,193.6 280.3,185.0 281.9,192.9 281.9,184.5 281.3,191.1 281.3,185.9 281.6,192.5 282.6,183.7 282.6,190.5 282.4,185.4 283.7,194.1 282.6,187.4 283.7,196.9 284.2,188.7 283.9,196.0 284.5,189.9 283.8,196.3 284.4,192.9 285.5,199.6 286.0,194.0 284.6,201.4 285.9,196.0 285.8,202.7 286.5,195.9 285.8,203.2 286.9,198.6 287.2,207.5 286.5,206.6 287.9,212.9 287.3,208.5 288.2,218.7 288.5,210.8 288.7,219.6 288.2,213.4 289.0,216.2 290.1,208.6 290.2,213.6 290.1,206.2 290.3,212.5 289.8,203.8 289.9,209.2 291.2,201.2 290.9,203.2 290.8,192.9 292.2,197.9 291.9,186.4 292.7,189.0 291.3,180.1 291.9,182.6 291.8,172.0 293.2,176.8 293.7,171.0 293.1,175.2 293.1,166.6 294.1,175.3 294.9,167.6 295.1,172.7 295.7,165.4 294.8,172.9 294.9,163.3 295.5,171.9 294.9,166.4 296.6,169.7 295.9,162.7 295.8,171.8 296.3,164.2 297.3,174.1 296.7,166.3 297.8,175.1 297.1,169.2 298.0,175.4 297.2,170.4 297.5,179.8 299.3,170.1 298.6,181.3 299.8,173.8 298.9,179.3 299.5,171.9 300.9,181.1 299.2,173.7 301.2,181.9 301.3,172.8 301.8,179.9 300.3,172.0 302.2,177.5 301.0,169.4 301.9,178.9 301.4,170.5 303.4,179.1 302.3,175.8 303.8,183.3 303.6,174.9 303.5,181.7 303.4,173.5 304.3,182.1 304.5,173.4 305.4,181.1 305.6,172.8 305.3,179.2 305.9,173.2 305.8,179.9 305.1,174.2 306.2,179.4 305.4,172.6 305.6,180.8 307.0,173.4 307.0,182.0 306.3,174.0 306.7,180.3 307.2,174.3 308.0,182.8 309.0,176.2 309.0,184.9 309.4,176.4 308.6,184.6 308.9,178.3 308.6,187.3 310.4,180.1 309.8,189.8 310.9,182.1 311.4,188.6 309.9,179.1 311.1,187.2 310.6,182.9 312.0,191.1 312.0,183.9 312.4,191.9 312.8,183.4 311.8,190.3 313.2,185.2 313.1,193.4 312.7,188.0 313.4,195.1 314.6,186.8 314.0,196.2 313.7,190.9 313.7,196.3 314.6,189.4 315.6,199.2 314.9,193.3 316.2,202.7 315.8,196.2 316.1,205.5 317.1,189.7 316.8,194.0 317.1,182.3 316.9,184.9 317.7,171.8 318.2,176.5 317.2,166.7 318.3,175.1 317.5,167.4 317.9,172.5 318.0,163.8 319.8,172.7 318.4,160.4 320.1,167.8 318.7,158.1 320.0,163.6 319.4,156.5 320.1,162.7 321.1,155.0 320.4,163.9 320.8,157.0 320.7,165.5 321.0,160.6 322.4,164.9 323.1,158.5 322.5,165.8 323.2,159.6 322.4,166.6 323.7,156.9 324.0,165.0 323.1,161.9 324.9,166.9 324.4,163.1 324.0,171.6 323.8,164.4 324.4,170.6 325.6,166.5 325.6,174.6 325.0,171.0 326.9,176.5 327.1,170.6 327.3,180.0 327.6,172.4 327.9,177.5 327.0,170.5 327.1,178.1 327.9,174.8 327.7,183.5 328.6,175.4 329.4,184.7 329.3,180.3 328.0,186.6 329.1,178.8 330.1,187.0 328.8,179.1 329.4,185.2 329.8,175.9 329.7,186.5 330.8,180.0 331.8,185.1 331.9,178.5 331.5,186.2 331.5,178.8 332.7,186.1 332.6,179.6 331.8,186.6 332.8,181.4 332.5,188.9 334.2,182.6 333.1,188.8 333.7,181.4 334.7,186.7 334.5,179.6 335.0,187.0 334.3,178.2 335.4,183.9 335.2,176.3 335.2,183.7 336.2,174.7 335.7,181.8 336.5,172.5 336.2,181.6 336.3,172.7 336.5,182.9 336.6,176.9 338.1,184.0 337.6,179.1 338.2,183.7 338.7,176.8 337.8,185.1 338.7,176.6 339.6,186.1 338.7,179.7 339.5,184.8 339.4,177.8 340.7,186.7 340.4,178.0 339.7,186.0 340.6,177.2 340.0,187.8 341.8,180.1 341.3,185.6 341.8,180.9 342.7,185.9 341.8,180.6 341.5,186.6 343.6,177.5 343.9,188.0 343.6,179.0 343.8,185.8 342.7,179.7 343.4,184.6 343.4,177.3 344.4,186.2 344.6,176.0 344.2,184.0 345.0,175.0 346.4,183.0 345.8,171.8 345.1,178.8 346.3,168.7 346.9,177.3 347.1,170.6 346.6,175.9 347.8,166.9 348.3,175.2 347.5,165.9 348.4,171.7 347.9,166.4 348.4,174.4 349.6,167.3 348.8,175.9 348.3,170.1 350.2,177.0 350.5,170.3 350.7,181.4 350.0,174.7 350.9,182.8 349.9,174.7 351.5,181.0 351.0,174.7 350.7,182.1 352.0,173.0 351.4,183.3 352.5,172.0 351.6,180.1 352.2,174.1 353.0,184.9 352.4,177.7 354.4,188.2 354.5,183.4 354.2,190.5 354.9,184.3 354.9,191.1 354.8,185.0 354.1,192.7 355.3,183.6 356.0,190.2 355.7,180.1 355.0,186.7 355.4,180.0 356.8,186.7 357.4,177.8 357.5,186.2 356.5,181.2 357.2,188.4 356.7,182.8 358.9,190.6 358.0,184.1 358.3,189.6 359.2,182.2 359.8,186.3 358.2,179.3 360.3,185.7 359.9,177.1 359.4,182.7 360.4,174.3 360.1,182.4 360.3,173.1 360.6,178.2 361.6,170.4 362.0,179.8 362.4,170.0 361.3,178.2 362.6,170.1 362.8,177.5 362.9,171.8 363.7,180.0 362.5,171.8 364.4,178.7 364.0,170.8 364.5,176.9 364.1,170.1 365.0,177.0 364.3,164.7 365.3,172.5 365.4,166.7 366.3,173.6 364.9,168.2 366.4,175.5 366.9,166.6 365.5,174.2 367.5,168.4 367.6,173.2 368.1,166.3 367.8,173.9 368.4,166.7 368.4,174.7 367.7,167.7 368.4,174.1 367.9,165.9 368.1,170.4 370.1,165.1 369.4,171.1 370.4,164.9 370.2,172.1 370.3,165.3 369.8,175.2 371.0,166.3 371.9,172.7 371.7,168.7 370.9,174.3 372.7,168.4 372.1,175.1 371.6,165.8 372.1,171.4 372.1,165.6 372.8,174.9 373.1,163.7 373.2,173.7 373.0,166.4 374.8,173.2 373.8,168.9 373.8,172.6 373.9,166.0 375.8,172.9 375.0,166.6 374.7,174.1 376.6,166.2 375.6,173.7 375.9,165.2 377.3,172.5 376.0,166.9 377.4,172.5 377.8,164.6 378.5,173.7 377.7,167.8 377.0,173.5 377.9,163.5 379.0,168.6 378.8,160.5 378.5,166.6 379.0,159.7 380.0,167.2 379.7,158.8 379.7,164.1 379.8,156.8 381.4,163.3 380.7,157.1 381.0,162.0 381.8,153.7 381.9,160.6 382.0,152.0 381.9,159.8 382.9,151.1 383.0,156.5 382.4,150.9 383.9,156.8 382.6,151.8 382.6,158.8 382.9,151.5 384.9,155.1 384.8,148.0 383.9,153.4 384.2,147.6 384.7,154.3 384.9,146.9 386.3,151.9 386.4,147.5 385.3,152.2 385.7,146.7 386.8,151.1 386.1,144.7 387.7,151.9 387.4,145.9 386.7,151.4 388.0,143.7 388.2,151.7 388.9,143.4 388.7,152.9 389.5,143.8 388.6,150.7 388.4,143.7 389.7,149.7 388.8,143.5 390.5,149.5 391.2,142.2 390.4,145.8 391.6,137.3 391.8,147.8 391.9,142.1 391.7,150.5 391.9,142.7 391.0,151.4 392.8,146.5 392.7,152.0 393.1,147.3 393.4,154.0 393.2,147.1 392.6,155.1 394.1,149.8 394.9,157.1 393.2,151.3 394.1,157.1 395.0,152.8 394.1,157.3 395.5,150.2 396.1,156.6 394.9,150.7 395.7,162.0 396.5,156.5 396.7,163.4 396.9,156.7 397.6,164.0 396.6,156.6 398.1,165.5 397.5,157.1 398.6,163.7 398.9,157.9 397.7,163.4 399.1,156.6 398.4,162.4 399.3,156.8 398.5,165.6 400.5,158.0 399.4,165.4 400.7,158.9 400.7,166.8 401.3,160.7 401.0,166.5 400.4,162.8 401.1,168.9 401.2,160.1 402.9,168.1 403.2,161.1 402.7,169.4 403.0,163.0 402.7,169.8 402.9,165.0 404.1,170.5 403.9,163.2 404.8,169.8 405.0,162.5 405.4,169.6 404.1,159.5 405.1,168.0 405.5,159.7 405.6,166.9 406.5,163.0 405.7,170.4 406.5,164.1 407.3,169.8 407.7,160.0 406.9,170.6 407.5,160.7 408.0,168.7 407.5,158.3 407.1,165.1 408.3,156.5 407.6,164.6 408.0,156.3 409.5,162.4 408.2,152.2 408.6,158.8 410.4,154.8 410.0,161.9 410.3,156.6 410.0,163.2 411.2,157.4 410.1,165.8 411.7,160.3 411.2,169.1 411.2,164.1 412.8,172.2 411.8,162.9 412.4,170.1 411.8,162.4 412.6,170.6 414.0,162.7 412.7,169.6 414.7,158.9 413.6,166.0 414.9,158.9 414.2,167.6 415.4,161.2 415.2,166.8 414.7,158.4 415.9,166.4 415.8,158.5 415.2,166.9 415.4,159.5 416.6,167.0 417.6,158.5 417.7,165.8 417.1,157.7 417.9,165.3 416.9,155.0 417.2,161.1 417.9,153.0 419.0,159.2 418.6,152.5 418.0,159.2 419.3,149.5 418.8,157.2 418.8,151.6 420.5,159.6 419.3,149.3 420.1,156.7 421.0,149.6 421.6,155.1 422.0,148.6 421.2,153.9 421.9,145.8 421.9,151.2 422.1,147.1 422.5,150.9 423.4,146.2 422.8,151.7 423.9,144.4 423.2,152.1 423.0,144.8 423.3,151.4 424.0,143.7 425.3,152.8 424.3,144.1 424.9,152.9 426.2,149.8 425.2,154.1 426.5,150.6 425.6,156.6 426.7,152.2 427.0,163.2 427.5,156.5 427.8,163.6 427.2,159.7 427.1,162.4 428.0,158.3 427.0,164.4 429.2,158.3 428.9,166.4 429.5,158.9 429.6,169.8 429.7,161.6 428.8,172.1 428.7,165.6 430.9,173.2 429.3,165.8 429.5,172.7 431.3,167.2 431.7,172.9 430.6,164.2 431.8,172.7 431.1,168.7 431.5,174.3 431.8,166.3 431.9,176.6 433.7,169.9 432.3,175.2 432.7,169.2 433.7,177.8 433.0,170.6 434.6,177.5 434.4,172.2 434.9,181.1 433.9,174.4 435.0,177.6 435.4,172.7 435.9,180.1 436.3,172.3 435.0,181.3 436.0,175.9 435.6,183.9 437.0,177.9 436.2,184.5 437.6,181.1 436.8,185.3 438.7,181.1 438.3,190.1 438.2,183.2 437.9,191.5 439.2,185.3 438.0,190.3 439.6,184.9 440.3,193.1 440.4,188.2 439.7,195.1 439.8,187.8 441.3,196.5 441.7,190.2 441.2,197.4 441.5,190.6 442.4,199.4 441.8,195.6 441.1,202.4 443.0,196.0 442.0,205.2 443.0,200.1 442.8,206.7 444.2,200.9 443.2,206.3 443.9,200.4 443.2,203.7 443.9,197.7 445.3,204.2 445.2,194.6 444.3,199.7 446.2,192.4 444.5,198.9 444.8,192.2 446.5,198.2 446.9,194.6 445.7,202.7 445.8,196.2 447.1,203.4 448.1,197.9 448.1,207.6 447.6,203.3 448.1,207.7 447.4,201.8 448.9,210.5 448.3,201.5 449.9,207.1 449.9,199.8 448.5,206.1 449.4,195.7 449.6,200.5 450.5,194.1 449.9,200.6 451.7,190.8 450.7,198.0 451.7,189.8 452.4,197.5 452.0,188.3 452.5,195.6 452.8,187.2 453.1,193.1 452.9,184.2 453.8,191.5 454.1,186.6 453.5,192.3 453.2,184.0 454.8,188.8 453.8,183.5 455.2,189.1 454.2,181.6 454.2,188.4 454.3,180.2 455.9,187.6 455.7,180.3 455.2,188.8 456.8,178.0 457.1,184.0 456.2,177.5 457.5,186.5 457.0,179.1 457.3,188.2 457.5,183.0 457.8,191.5 458.0,183.8 458.1,192.4 459.0,183.1 459.6,192.5 458.7,185.3 459.6,190.2 458.8,184.5 460.3,194.4 460.1,186.6 461.4,195.4 461.4,186.9 461.8,196.7 462.0,190.6 461.4,198.5 461.9,193.2 462.6,199.6 461.9,195.1 462.4,202.3 462.5,195.9 462.2,201.5 463.6,194.3 462.8,200.5 463.8,193.6 464.0,200.5 465.0,195.0 465.1,200.6 465.2,192.4 465.2,198.3 464.7,193.1 464.8,198.6 464.9,190.8 465.6,198.5 465.7,192.7 466.4,196.8 466.5,186.7 466.3,193.6 467.6,186.5 466.8,190.9 466.8,184.8 467.4,190.3 468.9,187.4 469.1,198.1 468.6,191.6 469.7,204.7 470.0,200.2 468.8,209.6 470.2,206.3 469.0,214.1 470.3,206.3 471.0,219.5 471.6,213.1 471.7,224.9 470.3,223.5 471.6,234.8 472.3,229.8 471.9,239.5 472.3,235.0 472.5,245.3 471.8,242.1 472.0,248.3 474.1,245.7 474.0,257.4 473.7,249.1 474.7,259.7 473.5,252.3 474.4,258.2 474.7,249.5 475.6,256.2 475.0,251.0 475.3,253.9 475.8,246.5 476.0,251.8 476.6,245.8 475.6,250.5 477.6,244.2 477.2,246.5 477.0,240.3 476.9,242.6 477.1,236.8 478.3,244.4 477.9,234.9 477.8,241.0 478.1,232.4 479.4,239.0 478.9,234.4 480.3,239.3 479.9,233.8 479.0,237.6 479.4,231.3 480.4,238.3 480.5,230.8 480.0,240.5 482.1,233.7 480.5,239.2 482.4,229.7 481.2,233.9 482.6,225.3 481.8,229.5 483.1,221.3 483.0,225.9 482.5,219.5 483.4,224.0 484.0,216.6 484.4,221.8 484.8,213.0 484.8,218.6 484.8,211.2 484.3,213.7 484.8,208.2 484.8,212.8 485.0,205.9 485.2,211.1 486.6,203.9 485.7,208.1 485.8,200.1 486.0,204.7 488.2,196.6 487.5,201.3 487.1,194.2 487.0,203.1 488.9,194.6 488.7,202.0 488.6,190.9 488.2,195.5 488.4,189.4 490.5,194.7 489.9,189.3 490.2,194.8 489.4,189.5 490.9,199.8 490.1,194.6 490.2,203.1 490.5,196.3 491.3,204.1 491.8,196.3 492.8,205.2 493.2,200.1 492.8,205.8 492.7,196.9 493.1,204.6 494.0,195.4 493.0,203.3 494.4,197.4 493.7,206.0 493.7,199.2 494.3,206.7 495.6,201.5 495.9,208.2 494.8,202.7 495.8,209.5 496.3,204.5 495.8,208.3 496.1,202.4 496.8,208.0 496.2,203.1 496.7,210.7 496.8,203.5 497.1,209.2 498.2,204.1 498.0,209.0 498.7,204.7 497.8,212.6 498.1,205.3 498.2,213.8 499.8,206.4 498.7,214.3 499.9,207.0 499.3,212.0 500.6,206.1 499.9,213.7 500.9,207.9 501.6,212.9 500.3,205.6 501.2,213.3 501.5,205.0 501.1,211.7 502.2,204.7 503.3,210.9 501.9,204.0 503.8,211.5 502.8,206.0 503.8,212.2 504.0,207.4 505.0,213.8 504.3,204.6 504.1,211.1 504.4,202.6 505.7,206.0 505.1,197.5 506.0,204.5 506.2,197.6 505.6,205.3 505.7,196.4 506.2,202.9 507.2,195.0 506.3,198.3 507.9,192.4 507.4,199.7 507.3,193.0 507.4,197.7 508.5,193.5 509.4,200.6 509.1,194.1 508.6,200.0 508.5,194.3 509.8,199.4 510.0,191.7 510.3,200.3 509.5,192.6 510.5,198.2 511.5,192.4 510.9,200.5 511.7,193.3 511.1,202.2 511.5,196.4 511.2,200.3 512.0,194.7 513.5,202.0 513.2,195.7 513.9,201.0 512.9,195.9 514.3,202.3 512.9,195.8 514.6,202.0 513.5,196.5 513.6,200.8 515.7,192.4 515.7,198.6 514.9,191.9 515.8,195.8 516.3,190.3 515.8,197.2 516.2,189.5 517.3,197.8 516.8,190.0 517.1,199.1 516.4,193.9 517.0,201.1 517.2,196.1 517.3,203.1 517.7,193.2 519.1,203.5 518.1,197.9 519.7,204.0 520.1,198.4 519.0,205.7 520.5,201.4 519.1,207.2 519.8,204.0 521.2,210.5 521.0,204.3 521.2,212.3 521.5,204.3 521.6,212.9 522.1,206.0 522.4,210.6 522.4,206.9 522.2,214.1 523.3,207.3 523.5,214.4 523.4,209.6 522.7,218.3 524.3,211.8 524.2,220.5 524.8,213.3 523.6,219.4 525.1,212.8 525.8,219.9 526.0,213.8 525.0,219.6 526.0,216.2 526.8,220.9 526.0,215.4 526.9,223.5 526.5,219.8 526.4,224.6 527.7,221.8 527.3,229.1 527.6,223.4 528.6,234.5 527.7,228.6 527.9,236.8 529.2,233.0 528.0,241.0 529.8,236.1 529.2,241.1 529.3,237.5 529.3,243.9 530.8,238.2 530.8,243.7 531.4,237.4 531.8,243.9 532.1,239.0 530.8,247.9 530.9,239.9 532.3,244.8 532.9,239.5 532.9,246.2 532.4,237.4 532.7,242.3 533.8,236.2 534.4,241.6 533.2,232.6 534.6,240.1 534.3,233.7 535.0,239.8 535.7,234.2 534.1,238.7 535.7,229.9 535.8,238.1 535.0,230.8 536.7,233.1 536.2,223.4 537.3,228.0 536.8,218.1 536.9,223.2 537.2,215.1 537.5,218.8 537.1,213.4 538.2,214.8 537.9,207.4 538.8,211.0 539.4,204.2 538.4,208.9 538.6,204.1 539.2,210.4 540.7,206.4 540.5,209.9 539.8,205.2 539.9,209.4 540.7,201.7 541.4,210.3 541.4,202.7 540.7,208.3 542.5,201.2 541.5,208.5 542.4,199.0 543.3,205.9 543.4,200.6 542.2,207.1 542.6,200.9 543.4,205.2 542.8,200.0 543.6,203.9 545.2,198.0 543.7,205.6 545.2,199.2 544.9,204.8 544.4,198.4 544.8,205.3 546.6,199.9 545.8,207.0 546.8,201.5 547.4,210.4 546.6,203.9 546.4,210.0 547.1,208.0 547.8,211.8 548.3,205.1 548.9,212.7 548.0,204.6 548.2,212.0 549.6,205.3 548.7,211.2 549.0,204.0 548.7,212.4 550.0,206.3 550.4,213.9 550.1,207.1 551.1,210.7 550.1,203.9 551.6,210.9 550.8,206.5 550.6,212.0 552.6,206.2 551.4,216.1 552.3,208.9 551.8,215.2 553.7,210.7 553.1,218.1 553.4,213.6 554.0,219.8 554.6,212.5 554.9,218.4 554.8,213.0 554.0,216.9 554.2,211.4 555.5,219.5 555.6,211.2 554.8,218.7 555.6,216.6 555.3,222.3 556.3,216.9 556.7,224.5 555.8,217.9 557.8,227.8 557.9,223.1 558.4,230.2 557.1,223.9 558.4,232.3 559.1,227.5 558.3,233.6 559.5,231.2 558.9,238.6 558.7,231.8 560.1,239.7 560.2,233.5 559.6,241.8 561.2,238.0 560.9,245.5 561.7,242.3 560.0,249.2 561.8,246.0 560.9,252.9 561.5,248.4 561.5,259.4 563.1,253.6 562.6,261.6 562.4,253.7 562.3,260.5 563.0,256.1 563.9,260.6 563.4,255.0 564.0,259.7 564.4,254.7 564.7,262.6 564.2,258.4 565.1,265.1 565.8,259.3 564.5,265.4 564.9,260.0 565.5,265.6 565.7,258.7 566.6,263.9 567.0,256.4 566.4,261.7 567.7,255.2 568.4,258.7 567.3,254.1 567.6,261.0 567.6,252.5 567.8,260.0 569.0,254.2 568.6,261.4 569.6,255.8 570.0,260.3 569.5,252.5 570.9,259.5 570.6,253.6 569.7,260.4 571.0,253.2 571.1,262.3 572.1,257.6 570.9,263.9 572.7,257.8 572.6,262.1 571.9,256.3 573.4,261.9 572.2,257.6 572.8,260.9 573.0,253.3 574.1,262.1 574.4,257.4 573.5,261.4 573.9,257.5 573.5,263.9 575.2,255.6 574.8,262.8 575.3,258.1 575.6,265.2 575.9,257.0 576.3,263.1 576.2,253.9 576.4,261.9 576.8,257.0 576.6,262.4 576.7,258.6 576.9,263.3 577.4,258.3 577.0,263.7 578.5,259.7 579.1,264.2 579.2,255.3 578.5,260.9 579.6,254.0 580.2,258.9 579.7,251.3 579.7,257.6 580.2,250.6 580.7,257.2 580.8,252.9 580.6,258.0 581.2,251.6 581.2,256.6 580.8,252.3 581.3,259.6 581.5,251.8 582.0,258.8 583.0,253.2 582.5,258.0 583.1,253.3 582.8,261.0 584.4,256.4 584.2,263.0 584.6,256.3 584.3,262.5 585.2,257.5 584.9,263.8 585.4,260.2 584.6,265.7 586.5,257.8 585.8,265.9 586.3,259.8 585.9,265.5 586.3,262.0 586.7,265.9 587.1,260.0 588.1,268.0 588.0,263.1 587.7,271.9 588.9,264.4 588.9,273.1 588.8,265.2 589.9,270.5 589.7,267.0 589.6,274.2 589.0,270.0 590.6,274.4 590.9,270.4 590.5,274.3 591.3,271.2 591.7,276.2 590.4,272.5 591.4,277.0 592.1,271.4 592.1,278.6 592.4,273.5 591.8,280.8 593.1,275.0 592.7,280.7 592.3,274.7 592.8,280.0 594.1,273.7 593.1,279.6 593.8,273.1 593.9,276.7 594.7,269.3 595.1,273.7 594.4,267.1 594.6,272.6 596.3,267.6 595.6,273.6 596.2,270.7 596.5,272.5 597.2,268.0 597.2,275.9 598.0,266.9 596.5,271.5 597.4,267.0 597.9,274.3 597.6,269.6 597.6,272.8 599.0,265.6 599.9,272.3 599.3,266.0 599.6,271.9 598.8,266.0 600.1,273.9 599.8,269.9 601.1,274.5 599.8,267.5 601.3,275.7 601.2,269.4 602.0,273.6 601.6,266.1 602.9,270.3 601.7,266.8 603.0,271.8 601.9,267.1 602.4,272.5 603.9,267.4 603.8,272.7 603.3,267.8 603.1,270.9 604.7,268.1 603.7,271.2 605.0,266.5 604.7,273.0 605.8,267.1 605.4,270.6 605.9,265.2 605.2,271.9 605.9,267.0 607.0,271.4 607.7,266.1 607.1,271.0 606.5,263.5 606.8,269.3 606.9,264.9 608.5,268.7 608.6,261.5 608.5,268.5 609.0,259.3 609.3,264.5 608.9,259.9 610.1,264.4 609.7,260.3 609.6,264.2 610.9,259.1 611.4,264.8 610.1,259.1 611.1,264.2 612.0,260.1 611.1,262.7 612.1,257.9 611.5,261.5 613.2,255.1 612.6,262.6 611.9,255.1 613.5,264.7 613.8,260.0 613.2,265.0 613.4,262.5 613.4,269.1 614.2,262.2 613.6,266.7 614.2,262.3 614.4,268.2 615.1,262.7 615.8,267.4 615.2,261.8 615.6,267.1 617.0,258.9 616.2,264.7 616.7,261.3 617.5,267.9 616.9,263.0 618.3,267.6 618.1,264.1 618.1,271.0 617.9,267.6 618.3,273.3 619.1,265.3 618.0,267.1 619.4,261.1 619.0,263.4 619.5,256.1 619.1,258.6 619.5,251.2 619.9,257.4 621.5,249.1 621.1,256.6 621.1,248.0 621.7,254.6 621.9,243.9 621.1,247.7 621.6,239.8 622.4,243.6 622.7,235.7 623.0,239.8 622.4,234.5 623.7,241.6 623.9,236.4 623.9,240.4 624.6,235.2 625.2,240.4 625.0,236.4 624.6,242.7 624.8,235.2 626.2,241.9 625.3,233.9 626.9,240.8 625.4,233.7 626.3,237.0 626.5,231.8 626.0,238.4 628.0,232.5 627.1,235.7 628.4,231.8 627.6,235.6 627.9,230.0 628.8,235.1 628.5,230.4 629.6,234.3 629.5,227.3 629.4,233.5 629.9,227.0 629.4,233.1 630.0,227.9 629.7,234.8 630.6,229.3 630.8,234.9 631.0,228.0 631.5,234.2 632.6,228.6 631.0,236.2 632.6,229.7 632.7,235.9 633.4,226.4 633.6,234.4 633.5,228.3 633.5,236.0 633.2,230.8 634.9,237.8 635.1,232.8 634.5,239.0 634.2,234.3 636.0,238.4 636.1,232.1 635.5,235.9 634.8,232.5 635.6,236.3 635.7,227.4 635.9,234.4 636.2,228.0 636.6,233.7 637.2,226.3 637.5,230.7 638.1,225.9 638.1,231.7 638.8,227.0 639.1,231.9 638.4,226.0 638.2,229.0 639.4,223.3 638.6,227.5 639.2,223.2 639.5,230.4 641.0,225.5 640.2,229.5 641.0,225.2 640.7,232.1 641.0,225.4 641.6,229.0 641.5,226.5 642.6,230.4 641.5,227.8 642.0,233.7 643.4,225.3 643.7,232.7 643.4,227.3 644.4,234.0 643.7,227.7 643.3,234.9 645.0,230.2 645.5,235.0 645.0,227.3 645.8,234.6 645.3,228.6 644.7,236.6 644.8,230.5 646.5,237.2 645.3,231.0 646.8,233.9 646.8,230.4 647.8,234.7 647.7,228.2 646.9,235.0 647.5,229.7 647.6,236.4 648.6,232.2 648.7,238.7 647.9,232.3 648.2,238.6 648.3,232.9 650.2,238.6 649.8,231.8 650.5,238.7 649.5,231.2 650.6,236.9 651.5,232.3 650.5,238.6 651.2,232.9 651.9,239.9 651.5,235.7 651.7,241.7 651.6,234.2 652.6,238.7 653.2,233.7 652.3,239.6 652.8,233.4 654.2,240.3 654.2,234.5 654.7,240.1 654.5,233.5 653.9,238.8 655.7,234.9 654.1,243.3 655.7,236.7 655.4,241.6 656.2,233.0 655.6,241.1 657.1,234.0 655.9,238.8 656.1,235.3 656.6,243.5 656.7,236.4 657.3,240.3 658.2,236.5 657.1,243.6 658.8,237.1 659.2,243.8 657.9,240.2 659.5,246.5 659.4,238.7 659.6,242.7 659.1,237.1 660.2,245.2 661.1,239.1 659.7,244.7 660.3,240.2 660.9,246.2 660.6,240.6 660.9,243.2 662.4,237.8 662.6,245.0 662.6,240.7 662.0,245.5 663.6,239.3 662.9,247.7 663.1,240.2 664.1,244.8 662.8,240.3 663.8,244.1 663.3,239.2 664.4,245.6 665.6,240.3 665.6,244.8 664.9,239.3 666.5,245.8 665.8,239.6 666.7,244.1 666.4,241.1 666.8,245.0 667.0,240.7 666.5,246.1 667.9,241.4 667.6,246.5 667.4,243.6 668.6,246.7 667.4,243.1 668.4,250.1 668.9,245.3 669.0,249.2 668.4,245.0 668.7,249.8 668.8,247.3 669.6,253.0 669.5,247.9 670.2,252.6 669.9,247.6 671.9,253.0 672.0,247.5 671.7,251.7 671.5,244.7 673.0,251.8 672.3,247.1 671.9,255.4 672.8,248.8 673.7,256.0 673.7,250.6 673.3,259.0 674.4,252.4 674.2,256.7 673.2,249.9 673.5,256.7 675.5,250.9 674.3,256.6 675.6,252.3 675.4,256.5 675.3,251.8 676.9,259.8 676.8,252.3 676.9,256.5 677.3,252.4 677.2,256.6 678.1,250.7 677.2,257.5 677.4,252.3 678.9,257.2 678.7,254.3 678.0,260.7 679.5,253.5 678.4,261.0 678.9,252.9 680.4,261.6 680.7,254.4 680.1,260.2 681.1,255.1 680.7,259.6 681.6,254.0 680.9,260.5 680.3,253.1 681.2,260.8 682.4,255.6 681.5,260.2 681.4,252.7 683.2,258.3 681.8,252.0 682.5,258.2 683.8,251.5 683.8,256.0 684.7,248.4 683.2,254.8 684.4,250.5 683.5,255.1 683.8,249.7 685.6,254.6 685.1,251.5 684.8,254.3 684.8,248.6 686.9,255.4 685.8,249.3 686.2,254.7 685.8,247.5 687.4,251.9 687.5,244.8 688.3,249.9 688.6,245.5 689.0,250.1 688.6,241.8 688.9,248.0 689.5,242.7 688.4,245.1 689.4,241.7 690.3,247.0 689.3,242.3 690.7,245.0 690.0,241.8 690.1,244.9 690.4,240.1 691.1,248.4 692.1,241.6 691.5,247.9 692.0,243.5 692.7,248.9 691.8,243.7 692.8,251.2 693.5,243.7 693.1,250.7 692.3,245.2 692.9,250.7 693.4,244.5 693.1,251.0 694.7,247.4 694.6,251.3 694.0,246.8 694.4,253.6 695.0,249.7 696.4,255.3 696.0,249.4 696.1,256.8 696.5,251.4 695.7,257.2 696.7,249.6 696.8,256.2 697.5,251.8 698.4,255.8 697.2,250.7 697.2,254.4 698.5,249.5 698.7,254.5 698.5,249.9 699.8,255.3 698.8,249.2 699.1,253.9 699.2,249.4 699.0,254.6 699.2,250.6 700.8,255.0 700.0,251.1 701.7,255.5 701.3,248.3 702.1,254.4 700.9,247.8 702.2,253.9 701.2,249.2 702.5,253.7 702.4,247.9 703.7,253.4 702.3,246.2 704.1,249.1 703.4,243.5 704.0,251.2 704.5,244.5 704.6,252.4 704.6,246.9 705.1,254.2 705.1,246.9 706.3,253.6 705.4,248.8 705.2,254.1 706.3,249.0 707.0,255.6 706.8,249.7 707.9,253.8 706.6,250.0 707.2,255.0 707.2,248.2 707.8,257.6 707.6,251.1 707.7,258.3 708.2,253.7 709.9,258.6 709.4,253.9 708.6,260.3 709.1,257.9 710.2,265.4 710.8,261.6 710.7,269.4 711.5,264.1 710.3,269.4 711.9,263.2 712.3,269.6 711.9,262.5 712.8,267.1 713.1,260.5 712.5,263.4 713.5,259.1 712.4,263.0 713.4,260.7 713.8,266.6 713.7,262.0 713.5,267.4 714.1,262.4 714.1,267.9 715.7,262.0 715.2,267.8 714.4,259.6 714.8,265.7 716.1,262.4 715.2,267.4 716.9,261.9 715.8,268.2 717.3,262.3 716.8,268.6 716.9,261.7 716.8,267.3 717.4,261.3 718.8,267.9 717.9,263.7 719.4,268.5 719.0,263.5 718.0,271.9 720.0,266.1 720.0,271.3 720.5,265.3 719.3,271.8 720.1,264.4 720.2,268.2 720.3,262.4 720.9,268.0 721.8,264.1 722.4,270.2 721.4,267.4 722.7,272.6 722.0,268.2 721.9,275.6 722.8,272.6 722.9,279.7 723.2,273.2 724.1,278.5 723.1,275.2 723.5,281.6 724.5,276.8 724.1,283.6 725.3,279.7 724.3,285.3 726.0,278.9 724.8,286.8 725.9,281.5 726.4,285.6 727.0,278.3 727.0,281.1 727.0,277.5 726.0,283.8 726.3,278.2 728.1,281.5 727.7,277.7 727.8,282.4 728.6,276.1 729.3,280.7 728.0,275.3 729.0,281.1 730.2,276.5 730.3,281.0 729.4,274.1 730.4,279.1 731.1,272.2 730.1,277.1 730.5,269.1 731.8,276.2 730.5,268.9 731.9,275.6 731.5,270.4 732.9,277.0 732.4,272.4 733.0,276.9 732.1,272.0 732.1,278.0 732.9,270.5 734.4,277.1 733.1,271.5 734.8,274.4 734.1,267.2 735.4,270.8 733.7,266.2 734.8,269.3 735.1,263.7 734.8,266.8 735.9,258.6 735.8,261.7 736.0,254.8 736.3,256.7 737.3,247.7 736.5,251.3 737.7,246.1 737.7,252.5 737.1,246.8 737.3,252.2 738.6,241.8 738.1,248.5 738.6,242.5 739.6,244.0 739.1,238.9 740.0,244.0 739.1,238.4 740.9,242.0 739.4,237.2 739.8,241.6 740.1,236.8 741.5,242.1 742.0,237.0 742.2,242.3 741.8,238.0 741.2,243.7 743.1,236.1 741.9,242.0 742.8,235.5 742.3,241.4 743.8,237.4 744.3,242.1 743.8,236.5 743.9,243.3 743.3,240.3 744.7,244.8 744.9,241.9 744.8,246.4 746.2,238.7 744.5,244.8 746.0,239.5 745.9,247.3 746.6,241.2 746.2,246.4 747.7,239.0 746.8,242.7 747.1,238.0 748.4,244.6 747.9,239.1 747.9,241.9 748.5,237.6 748.2,244.8 749.2,240.4 749.0,245.5 749.3,239.6 748.6,246.7 749.3,240.8 749.3,247.5 750.1,239.5 750.2,246.9 751.3,241.2 750.4,247.7 750.2,243.3 752.4,249.9 752.3,242.6 751.5,247.8 753.1,246.3 752.3,249.5 751.9,245.9 752.9,251.6 753.5,245.4 753.8,251.9 754.5,244.2 754.5,251.3 754.0,247.7 754.6,252.2 754.8,245.9 755.0,252.1 755.6,245.7 756.3,252.6 756.5,249.0 756.6,252.1 755.7,244.9 755.8,252.4 757.1,246.7 757.2,253.1 756.6,245.4 757.3,250.4 757.1,243.8 757.4,250.7 758.8,247.1 757.8,253.2 759.7,246.8 759.5,251.6 759.7,245.6 758.9,252.1 760.3,246.6 759.6,251.0 760.4,249.1 759.9,255.1 759.9,247.1 760.7,252.1 761.3,248.0 760.9,254.4 762.5,248.1 761.6,254.4 762.0,250.8 762.9,256.4 762.3,250.8 763.0,256.0 763.6,250.5 763.8,254.1 763.4,247.7 763.4,252.1 763.3,246.8 763.5,249.3 764.8,245.9 764.1,252.8 765.4,246.4 765.2,251.8 764.8,248.7 766.8,251.9 766.4,247.0 765.9,252.1 767.1,246.1 766.6,251.5 766.9,244.4 767.8,251.0 768.4,248.0 767.2,252.7 767.4,246.5 768.2,253.9 767.8,243.4 768.7,251.5 769.0,246.7 768.9,252.2 769.7,246.4 769.5,250.0 769.7,244.2 769.7,248.4 770.2,245.1 771.3,251.0 770.3,243.3 771.5,250.9 771.5,244.6 772.7,249.0 771.6,245.7 772.0,250.0 773.0,244.9 772.3,248.0 774.2,239.9 773.7,244.9 773.3,240.2 773.9,244.1 775.2,237.9 773.9,243.8 775.0,238.0 775.3,244.4 776.1,237.4 776.2,243.4 775.7,237.9 775.2,241.9 777.0,237.2 776.6,241.8 777.2,235.9 776.8,238.6 776.8,233.5 776.8,237.9 777.9,228.5 778.6,236.8 777.6,231.6 778.3,234.5 777.9,228.4 779.9,234.3 778.8,228.1 779.4,230.5 780.0,223.4 780.1,230.5 780.3,224.2 779.9,231.6 779.9,223.9 780.1,228.9 781.4,225.2 781.6,229.9 782.0,223.2 782.7,227.9 782.4,223.1 782.8,228.7 783.4,225.4 782.8,231.0 783.6,224.7 784.3,227.1 784.7,221.5 783.7,227.9 785.2,220.9 784.4,226.3 784.1,221.0 785.1,227.8 786.1,221.4 784.9,227.6 786.5,222.1 785.4,228.4 787.0,220.8 786.0,225.0 787.0,219.9 786.5,227.4 787.3,221.2 788.3,229.5 787.1,225.8 787.3,228.8 787.5,224.0 788.9,228.0 788.1,224.4 788.2,227.4 789.6,220.9 789.5,225.6 790.7,220.7 790.1,224.4 790.6,220.2 790.7,226.3 791.2,222.8 791.9,227.5 791.4,225.6 790.6,232.2 790.8,226.1 792.7,233.1 791.5,229.2 793.5,233.2 792.0,226.5 793.0,233.0 792.2,228.3 793.6,231.4 794.3,227.4 793.0,231.5 795.0,226.4 794.1,232.0 794.5,224.8 794.0,229.9 796.1,225.5 795.6,230.1 796.5,224.6 796.9,230.6 795.6,225.3 796.7,230.0 797.1,223.3 796.8,229.5 797.6,224.3 796.8,228.5 796.8,220.7 798.3,224.6 798.0,219.2 798.5,225.3 798.2,218.6 798.9,224.7 800.2,216.4 799.4,223.5 798.8,214.0 800.7,221.3 800.2,215.1 800.8,220.1 800.0,213.1 800.3,219.1 800.2,212.8 801.7,219.2 800.8,212.9 802.0,216.3 802.4,211.5 803.0,217.4 802.9,213.5 802.5,219.7 803.7,215.1 804.1,217.7 803.1,211.3 803.2,219.3 803.8,213.7 805.4,218.3 804.0,211.3 805.6,221.3 804.4,216.3 806.0,223.1 805.5,217.9 806.1,223.9 806.2,220.0 807.5,226.8 806.8,221.4 806.1,228.6 806.3,221.0 807.6,227.5 807.8,223.7 807.0,230.3 807.3,227.1 807.8,233.5 808.7,228.8 809.7,235.9 808.8,229.9 809.3,235.6 809.4,228.3 809.3,232.9 810.4,230.6 810.9,235.4 810.0,232.3 810.7,237.5 810.3,231.3 812.0,238.0 810.8,231.4 811.8,236.6 812.9,232.6 812.7,235.8 812.8,231.8 812.0,236.2 813.7,231.2 814.2,238.2 812.8,232.2 813.0,237.3 814.4,232.7 814.4,241.2 815.3,234.5 815.2,237.7 815.2,232.0 815.7,240.4 815.1,233.9 816.8,238.7 817.1,234.7 816.5,238.6 816.0,232.9 816.3,239.5 816.5,233.3 818.1,239.7 818.6,234.0 817.2,240.9 818.8,235.7 818.8,240.6 819.2,237.3 818.7,243.4 819.0,239.0 819.2,245.9 819.3,239.5 820.4,245.7 819.7,242.7 819.5,246.5 819.8,240.2 821.6,246.1 821.4,241.8 821.5,248.3 820.8,242.4 821.4,249.8 822.7,246.8 823.1,252.2 822.2,247.6 822.9,252.7 822.4,245.6 822.9,252.2 823.1,248.0 824.2,254.4 823.7,250.0 824.9,256.5 825.4,252.0 824.0,259.4 825.7,254.5 825.7,259.6 825.6,255.0 826.4,260.9 825.4,256.4 826.9,262.6 826.6,257.8 826.3,263.1 826.9,259.6 827.4,265.5 826.8,259.9 828.5,266.3 829.0,260.6 827.9,268.1 829.1,265.3 828.0,271.5 830.0,265.3 830.4,271.1 829.7,267.0 829.2,273.1 831.2,268.2 829.5,275.0 830.1,270.5 830.5,277.5 830.8,273.0 832.5,280.8 832.4,275.7 831.6,280.0 832.4,273.2 833.0,278.9 832.6,271.4 833.5,275.9 832.3,271.1 833.7,275.7 832.9,268.3 833.5,274.7 833.7,267.1 834.6,274.0 835.4,269.3 835.4,276.0 835.4,267.5 836.4,271.5 836.5,265.2 835.5,270.9 836.5,266.7 835.9,269.0 837.0,262.9 836.7,268.3 837.2,262.4 837.0,268.0 838.5,262.1 838.9,267.2 838.4,261.7 838.8,266.6 839.6,260.0 838.0,266.4 839.9,256.0 839.9,264.1 839.9,261.2 839.9,266.8 840.5,260.2 839.8,267.6 840.5,261.6 840.3,267.2 840.8,263.3 841.2,270.0 841.9,265.3 841.5,269.2 842.7,263.7 842.4,269.1 843.3,263.2 843.9,268.4 843.0,263.0 843.2,270.1 843.0,267.2 843.9,271.1 844.3,267.3 843.9,274.9 845.1,269.4 845.7,274.6 845.7,269.9 846.5,279.5 846.4,275.3 845.3,283.1 847.0,278.6 846.6,288.5 846.2,287.4 847.9,295.7 847.8,295.5 847.6,303.3 848.3,303.3 847.8,308.7 848.6,303.4 849.3,310.3 849.4,303.5 849.9,310.9 849.6,304.2 849.3,308.8 850.3,302.0 850.5,309.6 849.3,302.4 850.5,309.5 851.5,303.9 850.2,309.6 851.9,304.5 851.1,309.9 851.7,303.1 851.3,311.5 852.9,305.4 853.3,312.6 852.9,304.7 853.8,310.3 854.0,303.3 852.7,307.5 854.3,301.9 854.2,305.3 853.8,300.0 854.5,305.9 854.3,297.5 854.1,306.7 854.3,299.3 856.2,305.4 856.5,300.1 855.2,305.5 857.1,300.8 856.3,303.6 857.5,297.2 857.0,305.2 857.8,300.0 857.4,306.2 857.0,300.6 858.1,308.5 857.6,305.0 858.6,311.7 858.4,303.3 858.4,309.7 859.4,304.4 858.8,309.2 859.0,304.3 859.7,310.9 859.5,304.5 860.1,315.2 860.1,308.7 860.8,310.7 860.7,303.3 860.9,310.8 862.0,304.6 861.9,309.3 862.9,301.5 861.9,307.2 861.8,300.9 863.0,307.3 862.8,300.6 863.6,306.6 864.5,301.7 863.7,306.8 865.1,301.7 864.6,307.3 865.1,300.9 864.3,308.6 865.1,303.2 865.8,308.2 866.1,303.9 866.5,309.1 866.6,302.6 865.7,311.3 867.4,303.6 866.4,309.6 866.9,303.1 867.6,307.9 866.9,300.5 868.4,306.9 868.4,299.9 869.3,305.0 869.1,296.9 869.9,302.6 868.3,296.8 868.6,302.8 870.2,299.1 870.4,304.9 870.8,301.4 870.7,305.6 870.6,301.0 871.0,307.1 870.4,297.2 871.3,304.8 870.8,297.0 871.2,302.0 871.3,292.2 872.0,298.3 873.3,294.8 873.7,299.5 873.8,294.4 874.4,301.7 873.5,297.0 873.6,303.1 874.4,293.7 874.1,299.4 874.0,291.5 875.9,298.9 875.5,291.5 875.6,296.1 875.1,291.2 876.6,297.8 875.4,290.9 875.5,296.4 877.5,292.2 876.2,298.3 876.9,292.9 876.5,298.2 877.9,287.7 877.1,292.0 878.8,283.5 878.1,289.3 879.2,282.3 879.5,285.9 879.6,279.4 880.4,285.0 879.7,280.8 879.8,287.4 880.6,281.0 881.0,284.8 880.5,279.9 881.2,283.2 880.8,275.8 881.9,281.2 882.3,273.3 882.3,281.1 882.7,272.5 883.1,278.5 883.3,272.6 882.2,276.6 883.5,270.6 883.3,276.3 884.4,269.6 883.0,276.3 884.0,268.9 885.0,274.1 885.7,269.4 884.7,275.0 885.4,269.7 886.3,277.0 886.2,271.1 885.0,276.9 886.9,268.0 887.1,275.3 886.4,269.6 887.6,274.6 887.5,268.0 887.8,276.5 887.6,270.9 887.7,276.8 889.2,269.1 888.1,279.7 889.0,274.6 889.4,280.0 889.1,272.3 890.2,278.7 889.6,274.1 889.8,282.4 890.1,276.3 890.0,284.7 891.2,279.2 891.4,285.1 892.1,278.5 892.2,283.7 891.1,277.6 891.9,283.5 891.9,277.6 892.3,283.6 892.3,278.2 892.4,285.5 893.6,278.7 893.0,288.7 894.2,280.0 894.3,287.7 894.8,280.4 895.3,287.1 895.0,283.1 894.6,293.2 895.6,286.0 895.4,293.5 894.8,286.4 895.6,291.8 895.8,286.7 896.0,292.2 897.6,281.9 896.1,289.5 897.7,283.0 897.4,289.6 898.2,280.5 898.6,287.5 898.0,279.2 898.5,286.1 899.1,279.1 898.9,286.2 898.7,276.4 898.6,284.4 899.4,277.3 899.4,282.7 900.2,274.4 899.8,284.0 901.1,274.4 900.8,283.0 901.0,272.3 901.3,281.9 902.3,273.8 901.5,281.2 902.0,272.8 903.4,277.6 903.3,267.9 903.4,275.1 902.5,271.9 902.8,277.5 902.8,273.5 903.5,280.2 904.8,276.7 903.6,283.2 904.1,275.1 905.4,282.3 904.2,272.9 906.2,281.2 906.6,273.1 905.9,280.0 905.6,272.4 906.0,277.8 907.6,270.7 906.9,277.3 908.1,271.5 907.3,279.8 907.7,268.5 907.8,278.0 909.2,270.9 908.4,276.4 909.7,269.7 908.3,276.7 909.2,269.3 909.3,274.1 910.0,266.3 909.6,271.6 911.1,263.5 909.9,274.3 910.0,264.1 911.8,270.6 911.0,263.1 911.8,271.3 911.7,260.2 911.6,266.1 912.6,261.0 912.6,267.5 912.0,257.6 913.4,264.7 913.7,258.9 914.4,264.2 913.6,255.3 913.7,262.2 914.7,254.3 915.0,259.6 913.8,248.6 914.3,255.3 915.1,248.9 915.7,252.8 916.7,249.1 916.5,252.5 916.3,244.1 916.5,253.1 917.6,241.1 916.8,246.5 916.3,231.4 916.8,235.5 916.8,229.1 918.8,235.2 919.1,224.9 918.7,229.5 918.1,220.5 919.4,229.8 919.2,218.3 919.4,227.1 920.5,219.5 919.3,226.7 920.7,218.0 920.7,228.1 919.8,220.0 921.6,227.6 920.7,222.6 921.6,226.7 922.1,216.6 921.7,223.8 921.4,213.8 923.4,219.4 923.3,207.8 922.0,217.0 924.1,206.9 924.3,215.3 923.5,206.6 924.3,217.7 923.8,209.4 925.4,216.7 925.1,210.6 925.5,218.2 926.2,211.1 925.0,220.5 925.1,212.0 925.0,220.1 926.6,213.4 925.9,223.4 926.2,217.6 926.2,227.7 927.4,217.9 926.7,226.0 927.8,221.6 927.0,228.8 927.7,221.8 927.9,228.3 929.0,220.8 928.8,226.7 928.3,218.5 929.3,225.9 929.3,214.4 930.7,222.4 930.1,209.9 930.5,215.7 930.2,206.7 931.8,211.6 932.1,204.2 931.3,209.8 932.0,200.6 932.4,208.0 932.5,196.7 933.2,203.0 932.8,191.1 933.2,197.2 933.6,189.8 932.8,193.2 934.7,184.9 934.0,192.1 934.9,182.0 934.3,189.3 934.1,181.6 934.5,189.7 935.9,176.9 935.3,189.0 936.6,178.8 936.0,186.7 936.7,179.5 936.0,187.5 936.7,176.6 936.6,186.2 936.3,179.0 937.1,184.9 937.4,182.1 938.0,193.1 937.4,186.2 939.1,198.7 938.3,191.6 939.8,198.7 940.0,191.3 940.0,201.5 938.9,194.4 939.1,202.5 939.8,196.6 940.7,206.0 940.7,200.8 941.8,205.5 940.4,198.8 942.3,205.9 941.1,197.0 941.3,204.8 942.7,197.1 942.9,203.7 943.3,195.2 942.7,203.0 943.6,194.4 942.8,202.5 943.3,190.8 943.6,197.7 945.0,189.1 944.8,198.2 944.0,191.6 945.3,197.0 945.2,189.8 946.3,197.4 946.1,186.7 946.0,196.3 947.0,187.9 946.1,195.5 945.9,185.7 946.3,190.9 946.3,184.4 947.6,194.5 947.8,187.5 948.4,197.8 948.3,190.2 949.0,200.0 949.5,194.2 948.6,202.6 949.6,193.0 948.7,202.4 949.7,197.5 950.6,206.1 950.0,197.9 950.2,207.8 951.4,201.0 951.1,208.6 950.4,203.8 950.6,212.7 951.9,204.8 952.6,211.2 952.0,203.6 951.7,213.1 952.9,201.2 952.1,209.1 953.0,200.5 954.3,208.2 953.8,197.9 953.1,208.4 954.7,198.5 955.1,205.8 954.3,197.6 954.5,204.2 956.0,196.4 956.4,203.8 955.3,193.8 956.7,201.5 956.4,193.8 956.0,200.3 956.6,192.8 956.4,198.8 956.4,190.8 958.3,197.3 958.5,191.9 958.2,197.9 958.4,190.2 958.1,197.3 959.0,193.5 958.8,197.2 959.8,191.5 959.6,194.4 959.8,189.4 960.2,195.6 960.2,185.6 961.1,192.4 961.2,181.8 961.8,187.6 961.4,179.4 960.5,187.6 962.4,179.5 962.6,187.5 963.2,177.1 961.7,183.5 962.5,174.1 963.5,181.4 963.4,175.4 962.6,178.1 963.6,169.1 963.9,175.3 964.3,167.3 964.4,173.7 963.8,161.9 965.3,166.9 965.7,160.0 965.5,170.2 966.1,160.3 966.5,167.7 965.3,159.8 966.5,168.3 966.7,158.7 967.2,165.8 966.8,158.0 967.0,163.8 967.3,154.9 968.9,163.1 969.0,152.0 969.3,160.1 968.7,151.2 969.1,158.1 968.9,152.6 969.8,159.4 970.1,151.0 970.4,162.4 970.9,156.4 970.2,168.6 969.7,159.3 970.2,171.0 971.9,164.4 971.4,171.0 972.0,164.3 972.4,173.4 973.2,165.2 971.8,174.9 972.7,169.8 973.1,178.4 974.0,172.7 973.3,180.7 973.7,173.5 973.6,183.0 973.5,176.5 975.3,185.1 974.6,178.8 975.2,189.4 975.0,182.3 975.1,188.4 974.8,183.3 975.0,189.9 977.2,182.6 977.5,189.1 976.1,179.7 976.5,187.4 977.7,176.3 977.5,185.3 978.6,180.4 978.0,185.6 978.0,179.0 978.5,183.7 979.1,177.4 978.5,181.9 979.5,176.8 979.9,181.6 980.7,174.0 980.2,180.9 979.7,174.4 980.7,181.0 981.6,173.6 980.7,181.5 980.4,174.2 982.0,180.7 981.0,171.6 983.0,178.8 981.4,170.8 982.0,178.5 982.9,170.7 982.3,175.4 983.1,170.0 983.0,175.8 984.2,167.6 983.7,171.9 983.9,165.6 984.8,172.5 985.7,165.1 984.5,167.1 985.7,162.1 984.9,171.1 985.8,162.6 985.2,171.8 986.5,162.4 985.8,173.7 986.4,164.9 986.0,171.9 986.8,164.5 987.9,171.2 987.4,165.7 987.4,174.3 988.4,167.3 987.8,177.0 988.5,168.4 989.1,177.4 989.2,170.6 988.6,177.9 990.7,169.0 990.2,177.1 990.7,168.6 989.5,177.1 990.2,167.1 991.5,176.2 991.7,170.3 991.0,179.6 992.4,174.0 992.6,181.0 991.8,175.6 992.5,183.9 992.3,177.0 992.7,187.6 993.0,179.8 992.6,189.3 993.1,180.4 993.8,190.8 993.6,181.7 993.9,190.3 994.1,181.2 995.5,193.5 994.9,183.7 996.3,191.6 996.1,186.0 995.4,192.7 997.2,186.9 997.2,194.1 996.9,188.3 996.3,195.1 997.1,187.5 997.1,197.1 997.9,188.9 997.7,196.4 998.6,192.0 998.5,197.7 999.2,190.0 1000.0,197.2 998.6,188.8 999.1,197.7 999.0,188.0 999.6,195.8 1001.1,188.5 1001.0,194.6 1001.0,184.2 1000.1,191.5 1002.2,182.8 1001.9,189.6 1001.8,180.1 1002.9,187.4 1001.5,180.8 1002.6,187.6 1003.0,179.1 1003.7,187.5 1003.5,176.9 1002.5,183.3 1004.6,172.7 1004.2,180.3 1004.2,170.0 1003.6,180.1 1004.5,170.5 1005.0,176.9 1005.9,168.0 1006.0,173.2 1005.1,165.0 1006.8,172.6 1005.9,163.9 1006.8,170.9 1007.4,163.0 1007.4,170.0 1007.8,163.2 1006.9,170.9 1007.8,161.9 1007.5,171.1 1007.3,161.9 1007.7,168.8 1009.5,162.3 1009.0,168.3 1008.9,162.5 1010.1,171.3 1010.7,161.6 1009.7,169.2 1009.7,159.2 1009.9,167.5 1011.3,159.7 1011.5,167.2 1012.2,161.8 1011.4,172.3 1012.3,161.1 1012.7,171.9 1012.8,165.9 1013.4,172.8 1012.6,167.0 1013.7,175.5 1012.3,167.5 1013.8,177.0 1013.4,170.4 1014.5,177.5 1013.7,169.1 1013.7,178.3 1015.3,171.6 1015.6,180.5 1014.7,172.5 1016.4,180.6 1014.8,174.8 1016.7,183.9 1016.8,176.9 1016.5,181.2 1017.5,174.3 1016.5,180.3 1017.9,172.5 1018.2,180.4 1017.6,173.0 1018.2,177.4 1018.7,170.0 1018.2,180.0 1018.5,168.9 1018.3,178.3 1019.1,170.5 1019.2,177.3 1020.1,168.9 1020.1,175.1 1021.0,168.1 1020.6,174.8 1021.6,166.2 1021.1,176.9 1020.7,165.7 1022.2,173.4 1022.6,166.3 1021.2,172.8 1022.2,163.7 1022.8,173.5 1022.6,166.0 1022.9,175.4 1023.3,166.9 1023.6,176.6 1024.5,170.9 1023.4,178.0 1024.1,166.4 1024.9,176.4 1023.8,168.8 1024.6,175.5 1024.4,166.7 1026.2,176.2 1026.1,169.7 1026.6,174.1 1025.3,168.4 1026.1,174.4 1027.5,165.7 1026.7,175.3 1026.9,170.1 1028.1,175.8 1027.5,171.9 1028.7,179.3 1027.6,167.8 1028.7,178.9 1029.4,167.4 1029.9,177.3 1029.4,170.1 1028.8,176.6 1030.0,167.1 1029.3,176.6 1029.3,171.5 1031.2,182.9 1031.6,175.2 1031.9,180.0 1031.4,175.7 1030.8,184.5 1032.6,177.3 1031.9,181.9 1032.8,177.0 1033.3,185.7 1033.5,179.2 1032.2,185.6 1032.7,181.3 1033.5,187.5 1033.7,180.8 1034.6,188.4 1034.4,177.8 1035.1,185.7 1034.9,180.0 1035.4,188.1 1034.3,181.8 1036.1,187.3 1036.3,181.4 1035.3,191.3 1037.2,183.9 1035.9,191.9 1037.0,185.3 1037.0,193.1" stroke="#6cc860" stroke-width="3.2"/>
<polyline points="273.6,313.5 273.3,315.8 273.7,312.3 275.0,315.5 274.8,314.2 274.3,315.2 274.2,313.1 276.1,316.0 276.3,312.9 276.0,314.3 275.8,309.7 275.6,313.5 275.6,310.2 276.5,315.9 276.4,313.5 277.0,316.3 278.5,313.1 277.4,316.2 279.0,312.7 279.2,317.2 278.6,314.4 279.0,316.9 279.9,311.8 279.3,317.3 279.5,313.9 280.1,316.2 279.7,314.9 279.5,317.3 279.7,314.7 281.5,316.8 282.1,315.2 281.7,317.0 281.4,312.5 282.3,314.8 281.6,310.4 281.8,314.4 282.8,311.7 283.4,315.4 283.3,312.7 283.8,315.7 282.7,313.1 283.4,317.3 284.4,314.6 285.2,316.6 284.3,312.5 285.6,315.0 285.0,312.1 286.3,316.4 284.9,312.9 285.0,315.6 286.6,312.1 286.0,316.0 287.5,313.1 286.5,314.7 287.0,311.6 287.1,314.0 287.6,312.4 286.9,314.3 288.2,311.5 289.0,314.0 288.6,311.4 288.3,314.7 288.1,311.1 289.2,316.1 290.2,313.9 290.0,315.7 289.3,313.0 290.8,315.5 289.6,312.2 291.8,316.1 292.0,314.1 291.9,317.4 291.3,312.8 291.4,314.4 291.2,311.3 292.9,314.4 293.5,311.5 292.5,312.9 292.6,310.4 293.4,314.1 294.4,312.7 294.1,313.9 294.6,312.1 295.2,314.3 295.1,311.8 294.6,315.4 295.8,311.8 294.7,314.2 295.6,310.9 296.2,313.9 297.1,310.3 297.1,314.0 296.1,311.9 296.3,315.3 296.4,313.7 297.6,315.3 297.4,310.7 297.5,315.1 297.8,310.9 298.4,315.6 298.0,312.2 299.0,314.4 298.3,310.8 298.4,314.4 299.6,310.5 299.6,315.2 300.6,312.8 300.1,314.8 300.1,311.5 300.0,314.5 300.7,311.0 301.0,316.0 301.0,313.8 300.9,315.2 301.6,313.2 302.5,314.1 303.1,312.9 303.1,312.8 303.3,310.3 303.8,314.0 303.3,311.5 303.2,312.6 304.4,310.9 303.4,312.5 304.3,307.8 305.3,312.3 305.1,308.5 304.7,311.0 306.0,308.9 306.1,311.8 305.3,309.0 306.6,312.1 306.2,309.4 306.7,313.5 306.3,311.5 306.5,314.2 307.4,312.2 308.2,313.7 307.2,309.9 307.6,311.7 308.0,309.6 309.8,313.1 309.8,310.7 309.0,311.4 310.0,307.4 310.4,311.1 309.3,308.1 309.7,310.3 310.2,308.2 310.5,311.9 310.7,306.5 311.0,309.8 312.4,305.5 312.7,307.9 313.0,305.9 313.0,310.4 312.3,307.1 312.6,308.9 313.5,304.8 314.1,308.2 312.7,303.6 314.3,305.4 314.7,302.7 315.0,305.5 314.8,300.0 314.7,305.4 314.2,305.1 315.9,310.3 316.5,306.4 315.5,311.5 315.3,308.7 316.9,312.1 317.2,309.6 316.2,311.4 318.0,310.7 316.5,313.2 317.8,309.8 316.9,313.7 319.0,311.0 317.4,314.4 317.6,308.1 319.2,308.2 318.9,307.4 318.9,310.5 319.7,307.0 320.2,310.8 319.8,307.5 320.9,312.5 319.9,307.3 320.1,311.2 321.6,306.6 320.5,309.8 322.6,306.9 322.8,311.0 321.7,308.3 322.2,310.6 322.7,309.0 323.8,312.1 322.7,308.3 323.5,312.8 324.2,308.5 323.1,311.6 323.5,307.5 324.2,311.9 325.1,307.4 325.0,310.9 325.9,306.7 324.5,308.9 326.2,307.7 326.1,310.1 326.9,307.3 326.3,311.9 327.0,308.1 326.2,310.8 326.3,306.4 327.8,310.9 326.6,306.4 327.1,309.3 329.1,307.5 327.8,310.1 329.4,305.9 329.2,310.2 329.8,308.9 330.0,312.4 329.1,309.7 330.2,311.7 330.4,308.7 331.2,311.9 330.7,306.7 331.6,310.1 330.4,306.6 330.7,308.4 332.1,305.0 332.8,308.0 331.8,305.9 332.1,309.9 333.6,306.8 332.0,308.4 333.4,305.6 334.2,308.0 334.3,304.9 334.0,308.3 334.0,305.2 333.9,309.5 335.1,306.8 334.4,309.6 334.2,305.4 335.9,310.2 335.9,307.7 335.5,311.9 335.6,307.6 336.7,311.2 336.6,306.2 337.5,307.1 336.1,302.6 338.3,304.5 337.1,303.0 337.1,305.8 337.3,301.6 337.7,304.6 339.0,302.4 338.4,307.4 338.5,304.6 340.0,309.0 339.7,304.9 339.2,309.0 340.0,306.1 340.7,310.3 340.8,306.6 340.2,310.9 340.8,306.5 340.4,310.8 342.1,306.4 342.1,308.9 342.8,307.3 341.6,310.5 343.3,306.6 343.1,308.5 342.3,304.6 344.0,308.6 342.7,303.3 343.2,308.1 343.8,304.4 345.0,308.1 345.0,305.6 345.5,309.7 345.7,305.1 344.7,308.3 345.0,306.3 346.2,309.3 345.2,305.1 347.0,307.8 347.4,302.4 345.9,305.4 346.2,302.9 347.2,308.4 347.4,304.5 347.0,307.8 349.0,304.9 348.4,309.5 349.0,307.2 348.1,309.4 348.5,306.0 349.6,310.3 348.7,308.2 350.2,309.3 350.6,307.2 350.0,310.5 350.5,307.3 351.2,309.2 350.6,306.4 351.0,309.2 352.5,302.3 352.5,306.4 351.4,302.1 352.3,305.9 351.7,301.6 353.0,305.6 353.8,302.0 353.5,306.2 353.6,305.3 353.5,310.1 354.8,307.0 354.4,310.7 354.6,309.3 354.3,311.1 355.6,307.3 356.2,310.9 355.0,304.5 356.2,309.2 357.0,306.6 356.5,308.8 356.5,304.3 356.0,308.9 356.5,307.2 358.1,309.3 357.8,306.0 357.3,309.0 358.4,304.7 358.9,306.6 358.5,303.2 358.7,306.9 359.7,302.6 359.5,306.8 360.4,303.1 359.5,305.8 360.8,302.8 361.2,307.6 360.9,305.1 359.9,307.9 360.3,303.6 360.9,306.4 360.9,304.2 361.3,308.2 361.4,304.2 362.9,306.8 362.3,301.4 362.5,306.1 362.7,301.0 364.4,304.7 363.0,302.1 364.6,306.4 363.2,303.6 364.2,306.2 364.1,302.2 365.8,306.3 365.5,301.5 365.2,307.6 366.2,303.2 365.6,306.3 366.1,301.3 367.2,307.2 366.3,301.6 367.8,305.5 368.0,299.5 368.0,304.2 366.9,299.3 367.9,301.4 369.0,298.4 368.1,301.6 369.4,298.5 369.3,301.5 369.2,298.5 368.5,301.7 369.5,296.8 370.3,301.6 370.5,298.1 370.0,302.7 369.8,299.3 369.9,302.3 370.8,298.0 370.8,301.3 371.3,299.0 372.3,303.7 372.6,297.1 372.0,300.6 372.9,294.8 373.8,297.2 374.1,293.3 374.1,296.0 374.0,293.1 373.1,296.5 373.9,292.7 374.7,296.9 373.7,292.5 374.7,295.9 374.7,292.3 374.8,296.5 375.3,290.4 375.7,295.3 376.8,291.8 376.2,297.6 377.0,295.2 377.6,298.7 377.1,292.9 377.0,296.4 377.6,292.5 378.0,298.2 378.8,293.1 378.8,298.7 378.6,292.6 379.0,295.4 379.1,290.6 380.3,294.1 379.4,288.0 379.3,293.4 380.2,287.6 380.3,291.8 380.1,288.3 380.8,295.1 381.0,291.8 380.4,293.7 381.0,289.0 382.3,292.6 382.8,286.7 382.0,289.3 383.1,285.0 383.3,288.7 383.8,284.0 384.4,286.4 384.0,280.2 383.9,284.8 383.9,278.5 383.5,283.5 385.0,278.4 383.9,281.7 384.8,279.7 384.8,283.5 385.7,282.2 386.4,286.4 386.2,280.8 386.6,287.5 386.1,285.4 386.5,287.7 388.1,285.2 386.8,290.2 387.5,288.3 387.4,296.1 389.1,292.9 388.1,296.8 388.3,292.8 388.5,298.0 389.1,293.6 388.6,300.8 390.0,295.0 389.9,298.9 390.7,293.3 390.0,299.4 390.9,294.9 390.8,298.4 391.6,293.0 392.1,299.0 391.4,293.1 391.3,296.4 391.9,291.0 392.0,295.7 392.1,290.5 391.9,295.1 392.2,289.3 394.4,293.5 393.1,287.3 392.9,292.2 395.0,285.9 394.4,289.6 393.6,284.1 395.6,288.3 395.2,286.2 395.1,290.5 395.0,287.0 396.1,291.3 396.0,288.0 396.0,291.2 396.2,285.9 395.9,289.8 397.9,285.2 397.5,290.1 397.6,284.9 398.3,289.2 399.1,285.8 397.7,291.6 399.2,287.5 399.4,292.7 399.4,288.3 398.7,290.3 398.6,285.6 400.2,288.3 400.2,282.9 400.8,285.6 401.2,279.4 400.2,286.3 401.8,282.3 400.5,286.6 402.3,283.8 402.0,285.5 402.5,282.5 401.4,286.4 402.0,280.4 402.5,285.5 403.1,279.6 402.6,285.5 403.5,280.6 403.5,286.0 403.4,282.0 404.6,284.0 403.6,276.1 405.7,281.6 405.0,279.9 404.5,285.3 405.1,278.9 406.6,284.4 405.7,280.4 405.6,284.1 407.2,279.4 406.8,284.9 406.9,279.2 407.9,284.5 407.7,282.5 408.8,287.8 408.2,281.8 407.9,286.5 409.3,283.0 409.4,289.4 409.4,285.5 410.2,288.8 410.0,284.1 410.2,286.7 409.9,279.8 410.4,284.9 410.5,280.5 410.5,284.7 410.2,278.7 410.8,284.1 411.4,280.5 412.4,286.4 411.7,282.3 411.7,287.6 412.9,283.8 412.0,287.8 413.7,283.4 413.4,287.5 413.2,282.0 414.6,286.4 414.7,280.8 415.1,285.6 413.8,279.5 415.7,287.6 414.4,282.5 415.0,286.0 416.4,281.3 414.9,288.4 416.6,282.9 415.4,288.7 416.9,283.1 416.0,288.1 416.7,282.0 418.0,287.4 418.6,283.1 416.9,287.1 418.8,283.1 418.4,288.6 418.6,284.2 419.2,288.1 419.0,284.0 420.1,286.9 420.0,282.2 419.9,287.8 420.7,284.4 421.1,288.7 421.6,282.3 421.5,287.1 421.9,282.0 420.5,286.5 420.9,282.2 420.9,286.2 422.0,282.2 421.5,287.5 421.8,282.9 423.7,288.4 423.6,283.0 423.5,287.0 423.2,283.8 423.9,289.1 424.0,284.1 424.4,287.9 425.0,282.3 425.8,286.4 425.6,283.5 425.6,288.2 425.5,283.2 425.9,288.4 425.6,285.2 427.0,292.7 427.2,289.2 427.5,295.0 428.0,290.3 427.6,294.8 428.4,291.0 428.5,293.4 428.9,288.0 427.5,294.3 429.4,287.1 429.0,292.8 428.4,288.9 430.3,292.1 430.0,286.9 430.0,292.6 430.2,286.7 430.0,289.3 429.9,284.3 430.7,288.0 432.1,285.9 432.2,289.2 431.4,283.0 432.8,285.5 431.3,278.9 432.9,286.4 432.1,277.3 432.1,284.3 432.2,277.2 432.9,282.7 432.8,278.7 433.6,284.7 434.3,278.7 434.7,284.2 434.6,278.9 434.1,284.2 435.7,275.9 435.2,281.0 436.4,275.4 435.6,281.2 437.1,275.2 436.7,281.7 435.8,277.1 437.7,282.2 436.8,277.2 436.6,282.3 438.0,277.8 438.7,281.9 439.0,278.4 437.7,282.7 439.1,276.6 439.7,281.0 439.4,275.0 438.4,279.5 439.8,275.4 439.0,278.8 440.7,272.2 439.6,276.9 440.1,271.1 439.9,276.5 442.1,272.4 441.6,276.9 441.6,271.8 441.7,277.1 441.4,271.7 443.0,277.5 443.2,271.6 442.2,275.0 443.6,268.2 442.7,274.5 443.8,268.1 443.0,271.5 443.5,264.2 444.3,270.0 445.4,263.2 444.4,264.8 445.5,259.0 444.7,262.3 446.5,258.1 446.2,262.9 446.1,257.7 445.5,262.2 445.9,258.2 446.7,264.4 446.2,260.0 447.9,267.1 448.3,260.0 447.9,267.2 448.8,259.9 449.2,265.0 449.1,262.1 448.1,266.8 449.4,261.3 448.6,267.8 449.1,262.7 450.9,270.7 449.2,265.1 449.6,270.1 451.1,264.4 451.1,270.1 450.5,266.1 450.6,271.3 451.2,265.0 451.1,270.8 452.1,263.5 452.9,271.1 452.7,263.8 453.9,269.8 452.4,266.5 453.4,269.9 453.7,265.2 454.1,270.4 453.3,264.2 455.0,271.4 453.8,265.1 454.4,267.3 454.2,263.4 455.0,268.8 456.5,264.3 455.2,268.9 455.9,263.9 456.0,269.8 457.2,264.7 457.5,268.1 457.2,263.3 456.6,269.7 457.6,264.1 457.9,267.6 457.8,262.5 457.6,266.5 457.9,261.6 458.8,266.1 460.1,260.5 459.9,263.8 460.3,259.9 458.9,268.7 460.3,264.4 460.5,270.8 459.9,266.5 461.1,271.4 460.8,267.1 462.0,276.8 462.3,271.9 461.2,279.7 462.0,275.4 461.4,283.6 461.8,282.5 462.9,288.4 463.3,288.2 463.2,292.7 464.5,288.6 464.7,293.6 464.9,289.1 463.5,294.7 465.3,289.3 465.6,293.4 465.8,287.9 464.9,296.2 465.6,290.7 465.3,296.5 466.9,292.8 465.4,296.8 467.5,293.2 467.8,298.6 466.5,293.3 467.8,300.2 466.8,295.1 467.6,300.1 467.1,294.9 467.7,300.7 468.0,294.6 468.4,301.7 468.7,293.1 468.8,299.7 469.2,291.5 470.7,297.2 469.5,291.9 469.7,297.8 471.2,291.8 471.8,295.9 471.9,289.8 471.9,295.6 471.4,286.4 472.1,293.3 472.0,287.7 472.4,293.0 472.3,285.0 473.2,291.5 473.1,288.0 473.2,292.0 474.4,286.6 473.9,289.6 473.8,283.2 473.9,288.4 474.3,281.7 475.0,288.7 475.9,282.5 476.0,287.3 475.1,280.3 476.5,284.9 475.3,280.3 476.5,287.2 477.2,280.6 477.4,287.3 476.6,281.2 477.7,284.4 477.9,279.8 478.6,283.9 478.2,278.3 477.9,282.3 478.6,275.2 478.1,280.3 479.7,275.6 479.2,279.9 480.2,277.5 480.3,285.0 480.2,278.6 480.7,283.3 480.6,280.7 480.4,287.0 481.4,282.6 480.8,289.9 481.9,284.8 482.4,292.0 481.6,286.1 482.2,290.9 481.7,284.5 483.5,288.0 482.3,280.4 484.0,286.7 483.6,280.9 483.5,286.5 484.0,281.3 484.0,283.8 484.0,279.9 485.7,285.0 484.7,278.3 484.6,283.1 485.1,276.0 485.6,280.5 486.0,273.7 487.3,277.8 487.2,275.7 486.4,279.5 486.5,274.3 488.0,278.6 487.1,274.0 488.7,278.0 488.4,271.7 488.3,278.5 489.3,272.3 489.0,278.2 489.4,270.0 490.2,276.6 489.9,273.3 490.3,279.3 489.8,272.0 491.3,277.4 491.1,272.7 491.1,278.3 490.4,275.3 490.6,280.6 490.8,277.9 492.6,281.0 491.3,276.6 493.1,283.9 492.1,277.0 491.9,282.9 494.1,277.6 492.5,281.5 494.5,276.7 493.4,281.9 494.7,274.5 495.2,280.9 495.3,276.3 495.5,280.6 495.7,271.5 494.6,276.5 495.8,270.9 495.3,274.2 496.1,268.2 495.5,273.4 497.5,266.5 497.3,274.1 496.3,268.3 497.6,273.7 496.8,270.2 497.5,275.1 498.9,267.8 498.6,274.5 497.7,267.6 499.0,272.6 500.0,267.4 499.7,269.3 499.5,265.2 499.6,271.1 501.1,264.8 500.6,267.6 501.5,263.7 501.1,268.5 501.2,262.9 501.4,268.0 500.9,262.8 502.5,267.4 501.8,263.4 501.9,268.6 502.9,264.1 503.3,267.8 502.6,265.7 502.9,270.6 504.4,266.5 504.3,270.3 503.2,261.9 504.8,269.4 504.6,264.9 505.1,269.7 505.1,262.6 504.5,267.5 505.0,263.4 505.1,266.6 507.1,262.3 506.8,268.2 507.1,259.4 506.5,266.8 506.5,263.2 506.6,270.6 507.9,265.7 507.7,271.9 507.5,266.9 508.9,271.7 508.9,268.6 508.0,272.0 508.6,267.9 509.4,274.7 510.2,268.2 509.1,275.9 510.5,270.6 510.3,276.4 510.1,272.2 510.9,276.8 511.8,273.6 511.9,278.8 510.9,272.1 512.5,277.7 512.9,271.2 511.6,276.0 513.1,268.9 512.8,274.8 513.0,267.6 513.4,271.6 514.4,264.0 513.4,271.2 514.8,263.7 513.5,271.4 515.3,264.8 514.8,270.0 515.6,261.6 514.4,267.8 515.8,262.7 516.0,268.9 516.4,261.0 516.3,267.4 515.7,260.0 517.9,265.7 516.2,260.4 517.4,267.0 518.4,261.5 517.6,268.8 518.7,262.6 518.7,265.2 518.2,260.2 518.3,263.6 518.2,257.4 519.6,263.9 519.4,260.1 520.3,265.5 520.0,260.4 519.4,263.2 520.6,260.5 521.3,269.0 520.2,261.0 521.9,267.9 521.6,261.0 521.0,265.4 521.4,260.7 522.5,265.7 522.8,261.6 522.5,265.9 522.4,259.5 523.0,264.3 523.3,259.4 523.6,264.5 524.4,259.9 523.4,265.4 525.1,258.4 525.3,264.8 524.6,261.4 524.5,266.4 526.3,260.6 525.2,269.1 525.7,262.8 526.0,267.9 527.2,261.4 526.6,267.7 527.0,262.7 526.9,264.8 527.6,257.5 527.4,264.8 528.6,257.8 528.2,261.7 529.0,257.9 529.8,261.8 529.0,257.3 528.5,260.1 529.9,254.0 529.2,259.4 530.3,252.6 531.0,257.6 531.6,250.6 530.9,256.2 531.8,251.0 530.5,257.2 531.3,250.1 532.7,255.5 532.3,249.0 531.5,252.3 532.4,245.0 532.7,249.5 533.0,243.6 533.7,248.4 533.2,242.4 533.0,248.0 534.1,239.8 534.3,244.6 535.1,237.6 534.7,244.0 535.9,238.1 536.2,241.5 534.7,231.1 536.4,238.4 536.4,230.7 536.3,235.6 535.8,229.3 536.6,235.4 537.5,228.5 537.6,235.3 538.2,229.7 537.5,236.6 537.3,228.2 537.9,235.6 539.3,226.2 539.7,232.1 539.7,222.4 538.5,230.9 539.6,221.1 540.2,229.2 539.3,220.5 540.4,226.1 540.8,219.8 541.8,226.7 541.9,218.6 540.9,226.9 541.1,216.8 542.2,224.8 541.8,216.2 541.6,221.1 542.4,213.4 543.3,222.7 542.8,212.6 544.1,218.8 544.2,213.1 544.7,218.3 544.7,208.0 543.6,215.7 544.9,204.4 544.9,212.1 545.2,204.5 545.1,210.0 546.3,199.7 545.1,204.8 545.3,198.4 546.0,204.1 547.3,193.0 546.6,202.7 546.3,190.5 547.9,197.6 548.2,185.8 548.6,194.8 547.8,184.1 547.5,190.4 548.2,176.1 548.0,181.6 549.7,172.4 548.8,179.9 549.0,167.7 549.3,170.2 550.4,160.3 551.0,165.4 551.5,157.2 550.9,166.2 550.3,156.6 550.9,167.0 550.8,157.5 551.6,166.8 552.2,157.1 552.3,164.8 551.9,158.4 552.7,166.3 552.8,162.5 552.9,177.4 553.2,175.1 553.9,185.9 553.7,185.9 554.4,193.9 554.7,187.0 555.5,198.1 555.9,193.6 554.5,202.4 555.4,198.2 556.0,201.6 557.0,192.0 557.2,199.3 556.7,189.5 556.9,199.5 556.5,190.5 557.6,198.6 557.3,188.7 557.2,195.6 558.3,186.4 558.5,192.4 557.7,182.2 558.8,191.0 559.8,180.7 558.6,187.9 559.6,180.5 560.0,189.3 559.7,180.0 559.7,186.6 560.2,176.3 560.2,184.4 561.0,177.5 561.1,184.5 561.9,174.6 561.5,181.5 561.4,174.6 562.4,185.9 562.0,175.3 562.9,185.6 563.7,174.5 562.5,184.4 563.3,179.8 563.3,186.6 563.3,180.1 563.7,191.7 563.8,183.5 565.2,195.1 565.2,190.9 564.5,198.9 566.3,195.1 565.9,203.1 566.2,196.7 567.3,204.5 565.9,197.7 567.8,205.9 566.8,198.5 567.3,205.9 567.6,199.9 568.1,207.1 567.2,198.1 569.3,208.3 569.3,200.8 569.2,206.8 568.6,196.7 568.5,205.1 570.3,200.0 570.4,208.0 571.0,201.3 570.7,207.5 570.7,203.8 571.9,211.0 570.9,206.8 571.5,215.4 571.0,209.8 572.2,218.1 572.2,208.6 571.4,219.6 572.9,211.3 572.7,220.1 572.3,213.4 574.1,221.4 573.1,211.3 573.8,219.3 573.7,208.1 574.2,219.5 573.8,208.7 575.8,219.5 574.8,209.2 575.6,215.4 575.8,207.4 576.0,216.6 576.4,207.3 576.4,213.5 576.8,207.3 576.8,214.9 578.0,205.5 578.4,212.3 577.0,204.2 577.7,211.1 578.9,200.0 577.4,207.6 578.0,197.1 577.9,206.0 579.1,196.9 578.7,203.0 578.9,198.5 579.6,203.1 580.1,195.5 579.5,204.5 580.9,196.8 581.5,204.3 581.3,199.0 581.7,207.3 582.5,203.2 582.4,210.8 582.5,205.0 581.7,214.1 582.1,209.9 583.0,217.1 582.3,211.4 583.9,220.2 584.4,213.0 583.5,221.0 584.4,214.1 584.7,223.0 585.1,214.6 584.4,222.7 585.2,217.9 585.9,228.2 586.0,217.6 586.4,226.6 586.8,218.1 585.7,227.4 587.5,218.1 586.3,226.0 587.3,216.7 586.5,226.4 586.9,218.1 587.5,225.9 587.5,216.9 589.0,229.1 588.9,221.5 589.2,231.4 590.0,223.6 590.0,232.9 588.7,227.5 589.1,234.1 590.6,230.2 589.7,236.0 590.8,230.6 591.2,236.3 591.6,227.6 591.0,238.0 591.4,228.3 592.3,236.4 593.1,227.8 591.6,236.6 591.7,228.1 592.4,234.9 594.1,227.3 594.2,234.0 592.9,224.6 594.2,234.4 594.3,227.0 594.1,235.4 595.1,226.4 594.3,231.5 594.4,221.5 595.7,228.8 595.9,216.6 595.4,223.3 596.1,215.4 597.0,222.2 596.6,212.5 597.4,217.5 596.4,209.0 597.1,217.0 597.0,207.2 598.7,210.5 598.6,203.0 599.0,209.9 599.2,200.7 599.5,209.0 599.5,201.5 600.1,211.1 600.2,202.4 599.1,209.9 601.1,203.2 600.0,210.2 600.2,206.6 600.8,216.2 600.9,206.8 601.7,215.4 601.0,207.5 602.6,215.8 601.6,207.3 602.9,216.1 602.8,210.4 602.8,218.3 603.9,208.5 603.8,215.5 604.4,204.1 603.7,213.3 603.2,207.1 605.4,213.2 604.6,207.8 605.3,217.9 604.4,205.6 605.2,217.9 606.4,207.6 605.2,220.1 605.4,208.7 606.0,217.4 606.2,211.2 607.7,220.6 606.5,211.6 607.0,220.5 607.9,210.4 608.6,221.1 608.0,211.9 607.7,217.5 609.0,209.6 608.2,215.1 608.2,210.1 609.6,220.2 608.9,211.7 608.9,222.5 610.2,212.8 610.9,220.8 611.0,212.3 611.1,223.0 612.1,212.7 610.8,224.8 612.1,212.6 612.0,225.1 612.4,219.3 612.5,227.3 611.9,217.7 612.0,228.8 613.4,221.5 614.0,229.9 612.8,222.9 613.3,232.3 614.0,221.3 614.8,234.0 615.3,224.7 614.9,235.1 615.5,227.5 615.2,235.7 616.4,227.0 616.6,238.0 616.9,227.2 617.3,238.9 616.4,232.8 617.5,244.9 618.0,234.6 617.2,245.2 618.0,234.4 618.5,247.3 619.1,239.3 618.6,249.6 618.0,243.0 619.2,253.6 619.5,245.0 618.6,254.6 618.8,246.8 620.3,255.5 620.4,249.4 620.0,257.6 621.2,248.1 620.4,259.1 621.2,251.0 620.7,260.9 622.3,254.3 621.9,262.2 622.5,255.8 622.8,263.8 622.2,255.9 623.4,264.8 624.1,257.1 622.7,266.1 624.5,256.2 624.0,265.1 625.0,253.8 623.9,264.1 623.8,254.7 624.6,261.4 624.3,255.9 624.4,261.8 626.5,252.9 625.2,258.9 626.6,253.3 626.6,259.1 625.8,254.1 626.2,261.4 626.7,249.7 627.0,257.0 627.9,248.4 627.3,253.6 627.4,245.6 628.2,251.0 629.3,245.5 629.8,250.0 630.1,241.6 628.5,251.9 629.9,242.7 630.9,250.9 630.7,243.6 630.9,249.3 629.8,243.3 630.3,250.7 631.8,243.8 631.4,251.0 631.1,244.8 631.2,254.3 632.7,247.6 633.1,257.0 633.2,247.5 632.2,256.4 632.4,250.5 634.2,255.0 633.8,249.6 634.6,257.7 634.8,250.0 634.9,256.1 634.0,252.4 634.8,257.1 634.7,253.7 634.8,259.4 635.4,253.6 636.4,259.8 636.5,252.4 637.0,259.5 637.5,255.2 636.2,261.2 638.0,258.7 638.0,263.5 638.2,260.0 637.2,266.3 637.9,259.5 637.9,267.6 638.3,264.9 638.4,268.3 640.1,262.3 639.2,270.0 640.4,262.4 639.9,266.1 640.1,257.9 639.8,262.3 641.4,255.9 640.7,262.7 641.9,256.9 640.9,264.2 642.1,256.0 641.5,259.3 643.0,255.4 642.4,258.5 641.8,252.4 642.4,257.6 643.3,252.7 643.4,257.7 643.7,253.1 643.4,255.9 643.7,250.2 644.3,253.9 645.1,249.4 644.8,256.4 646.0,246.9 645.5,254.4 646.5,249.9 645.5,255.6 646.3,251.0 647.0,258.6 645.7,254.6 646.4,261.2 647.7,255.7 647.7,259.1 647.2,252.2 647.9,260.1 647.9,254.0 647.8,260.0 649.0,254.3 648.5,260.3 649.1,254.9 648.8,261.5 649.3,255.8 650.7,262.6 650.0,259.0 650.1,262.9 650.5,257.7 650.1,263.2 651.3,257.4 651.3,264.3 652.3,257.7 652.3,263.4 651.6,259.4 651.8,263.9 652.6,257.1 653.6,262.5 652.5,255.6 653.6,261.1 654.4,255.1 654.8,261.7 654.0,256.5 654.4,262.5 655.5,254.8 654.0,258.6 655.4,254.4 654.8,261.2 656.5,257.0 655.8,260.0 656.5,254.2 655.8,259.9 656.1,251.8 656.0,259.0 657.3,252.9 657.1,260.2 657.0,253.6 657.8,260.6 657.7,254.1 659.1,262.4 658.0,254.7 658.6,259.6 660.0,251.9 659.5,256.8 660.4,253.2 660.2,259.4 660.9,253.0 660.2,260.9 659.8,254.4 660.4,261.6 661.2,256.8 660.6,262.8 662.5,259.8 661.0,264.6 662.6,259.8 662.8,264.2 663.2,261.1 662.8,267.4 662.2,262.5 663.7,267.0 664.6,260.6 663.9,268.1 663.8,261.2 665.0,269.2 665.5,264.8 665.1,271.6 666.0,265.8 665.5,270.4 666.5,266.6 666.6,273.2 666.6,266.8 667.0,270.2 666.2,265.8 667.7,271.4 666.2,267.6 668.2,271.5 667.4,267.3 667.3,272.1 667.6,267.2 668.3,275.0 668.6,267.2 668.8,273.6 668.9,267.2 670.2,273.4 669.8,268.8 670.5,275.6 669.7,267.9 671.1,273.3 670.0,267.7 670.6,274.5 671.1,270.0 671.0,273.6 671.7,265.6 671.6,274.4 672.7,267.2 671.4,274.5 673.6,269.3 673.3,276.8 673.1,269.2 673.2,274.8 673.1,269.5 673.0,275.5 674.7,269.0 674.9,278.0 674.0,269.8 674.9,276.2 674.4,268.3 676.0,275.0 676.1,269.8 676.8,272.1 675.5,266.2 675.9,269.6 675.7,264.3 677.7,270.8 676.9,265.1 677.8,272.7 676.8,265.5 678.8,275.2 678.8,270.6 678.0,274.2 679.2,268.0 679.1,275.6 678.8,269.6 680.0,272.8 679.1,267.2 680.0,271.4 680.5,264.8 679.6,270.8 681.3,266.2 681.1,271.0 681.9,269.0 680.5,273.0 681.7,268.1 681.7,274.7 683.1,269.9 682.1,276.6 682.8,267.5 682.5,271.6 682.7,267.1 684.2,272.2 684.5,267.0 684.1,272.2 684.7,265.5 684.6,272.1 684.6,267.7 685.0,273.8 685.5,268.7 684.5,273.0 686.6,267.2 685.2,272.0 686.4,267.8 686.8,273.8 687.3,266.0 686.9,274.2 687.8,265.3 686.9,273.7 687.1,267.4 687.6,273.2 688.7,268.2 689.1,275.1 688.8,269.1 688.1,274.1 688.2,271.5 688.8,275.9 690.3,271.3 690.9,275.6 691.1,270.6 691.1,277.4 690.1,270.4 691.6,275.7 690.7,271.9 690.6,275.8 691.3,271.1 692.8,277.5 691.4,271.2 691.5,276.7 693.2,271.2 692.7,276.7 692.8,272.9 693.9,282.0 692.9,275.7 693.7,280.9 694.1,276.3 694.1,282.5 695.2,275.4 695.1,278.8 694.6,272.2 695.8,280.1 694.9,273.7 696.4,277.9 696.1,273.2 696.7,278.6 696.1,272.0 697.5,276.6 698.1,271.8 696.6,276.5 698.5,274.2 698.2,278.2 699.0,274.3 697.5,280.3 699.1,271.8 699.3,276.2 698.4,271.9 698.5,274.3 699.7,270.0 699.3,275.2 699.3,268.4 700.5,271.7 700.7,267.8 700.3,275.5 701.1,271.5 702.0,280.1 701.2,275.2 701.1,280.1 702.9,275.2 702.7,280.2 702.9,272.6 703.7,279.7 703.0,274.7 704.0,281.3 704.4,275.8 704.3,282.8 703.6,274.4 703.5,282.6 705.5,273.8 704.5,280.0 705.6,275.5 705.9,282.1 706.6,276.4 706.6,282.6 705.2,276.9 707.1,283.0 707.0,276.7 707.7,282.7 706.3,278.9 707.9,282.0 708.0,278.6 708.0,284.9 707.5,277.3 707.7,281.0 709.0,276.7 709.4,280.8 708.3,274.0 709.0,278.4 709.9,273.1 710.6,278.5 711.0,272.2 709.7,279.0 711.0,274.6 711.2,279.6 710.6,273.7 711.4,279.8 711.9,271.9 711.7,276.7 712.8,271.3 713.4,277.8 711.8,271.4 712.9,278.0 714.0,271.7 714.0,276.9 714.1,271.2 714.9,276.6 715.1,268.6 714.8,275.4 715.5,270.2 715.9,276.2 715.7,270.1 716.2,279.2 716.6,274.1 714.9,276.4 717.1,270.0 716.4,275.0 715.7,269.7 717.7,274.5 716.2,268.5 717.1,271.3 717.1,267.6 717.8,272.5 717.6,268.9 718.6,273.5 718.9,268.3 718.6,273.6 718.2,267.4 719.4,271.1 719.4,263.1 719.0,270.2 720.0,264.2 721.1,269.3 720.2,263.4 720.7,270.4 720.5,264.9 720.5,270.8 721.6,265.2 721.8,271.9 722.6,264.4 723.4,270.1 722.8,262.5 722.9,268.5 723.8,262.0 724.3,268.6 723.5,260.8 723.8,266.4 723.3,260.5 725.1,265.0 725.2,255.3 724.6,262.9 725.2,255.9 725.1,262.9 725.5,257.4 725.6,263.5 726.5,256.4 725.7,263.4 725.9,256.1 727.1,261.6 727.8,254.2 726.7,259.7 726.7,255.5 727.5,261.8 728.5,255.1 728.6,263.5 727.9,256.2 728.2,260.7 728.6,258.6 729.8,265.5 729.9,261.5 730.6,267.6 730.2,261.1 729.9,266.5 730.2,262.0 730.9,267.0 731.9,262.9 732.3,267.1 730.7,261.6 732.0,265.6 732.4,258.8 733.3,264.6 732.9,260.8 732.7,268.1 733.4,262.3 733.5,267.7 733.8,259.7 734.7,267.8 733.5,262.6 734.6,268.2 734.0,260.4 735.1,268.6 735.7,264.0 734.8,268.5 735.9,264.8 736.4,270.3 736.6,266.5 736.1,271.9 735.7,266.8 737.6,274.0 737.2,266.8 736.8,272.1 737.0,267.7 738.1,272.6 738.6,269.3 739.1,274.5 739.5,266.9 738.2,272.7 739.2,266.7 739.2,270.7 738.8,265.8 739.3,271.3 740.6,268.3 739.6,273.8 740.3,267.7 740.2,273.2 740.6,269.1 741.4,275.0 742.4,270.2 741.4,275.5 742.6,270.7 742.8,274.4 742.1,266.4 742.8,273.5 743.4,266.3 743.8,273.2 744.7,266.2 744.8,270.7 744.0,263.3 744.6,270.3 744.4,263.2 744.2,268.6 744.8,259.7 745.2,266.3 746.5,262.2 746.5,268.5 745.9,261.1 745.8,269.4 747.5,265.2 746.4,271.3 746.5,264.7 747.6,271.6 747.5,266.4 747.9,270.0 747.9,263.1 748.9,268.7 749.2,263.0 749.4,269.2 748.4,261.5 749.6,267.9 749.9,264.1 749.3,271.7 750.3,265.3 750.0,270.3 750.7,265.4 750.8,270.2 750.7,265.4 752.1,271.3 751.2,267.3 751.8,271.9 751.4,266.7 751.7,272.9 752.6,264.9 753.3,270.0 752.7,265.6 753.3,271.0 754.1,265.9 753.8,273.0 754.5,267.0 753.6,273.1 753.7,269.1 754.7,274.7 756.1,267.8 755.7,272.8 754.8,268.4 756.4,274.2 755.7,268.1 755.5,274.2 757.5,269.2 756.2,274.5 757.3,271.2 757.9,275.9 757.6,269.3 757.2,276.8 758.4,270.9 757.7,276.0 758.7,271.1 759.4,274.9 760.2,269.8 758.6,275.2 758.9,266.6 760.2,270.7 760.2,266.5 760.1,273.0 760.8,268.8 761.8,274.2 762.0,267.8 761.9,275.6 762.1,268.1 762.0,274.7 762.1,267.6 762.4,275.4 762.6,266.9 763.4,274.6 763.8,267.3 763.5,272.2 763.5,269.2 764.0,271.0 763.2,266.4 765.0,271.6 765.1,266.0 765.7,270.6 764.3,265.8 764.8,271.6 765.8,266.4 765.1,269.8 766.9,266.0 766.5,272.1 766.0,265.0 766.9,273.1 767.7,267.3 766.8,274.8 768.3,267.9 768.1,270.6 768.8,265.3 769.0,270.8 768.0,264.0 769.3,270.3 768.4,263.6 769.4,269.5 770.7,263.7 770.4,271.5 770.9,268.0 770.1,272.6 771.2,269.7 770.8,276.5 771.9,267.8 770.9,273.5 772.6,268.4 771.2,273.8 771.3,264.7 772.2,269.8 772.8,264.7 773.7,272.1 773.3,266.0 773.9,273.3 774.4,268.0 774.2,272.7 773.2,267.7 774.2,274.0 774.0,267.3 774.6,273.3 775.2,265.8 775.1,271.3 776.6,269.5 775.2,273.9 776.2,268.8 775.9,276.4 776.4,269.3 776.9,275.7 777.7,267.3 778.3,273.4 778.0,266.7 777.5,272.2 778.7,266.1 778.6,273.0 777.7,267.4 778.0,273.7 778.9,265.2 779.2,272.7 778.7,267.6 780.0,272.5 780.2,265.1 781.2,270.3 779.8,268.0 781.7,272.7 781.6,267.1 782.1,272.4 782.5,264.2 781.9,270.8 781.5,267.3 782.9,273.6 782.8,268.2 782.5,272.7 783.7,267.2 783.5,274.4 784.1,267.9 784.5,275.5 785.0,270.5 784.9,276.7 784.1,272.0 784.2,275.3 784.8,270.2 785.7,273.9 786.2,269.8 786.6,274.8 786.7,268.5 787.2,273.0 786.9,266.6 786.0,272.3 787.6,270.0 786.6,275.6 787.4,269.8 787.1,275.2 789.2,271.1 787.7,274.6 789.6,272.1 789.2,276.5 788.7,271.1 790.0,273.2 790.4,269.4 790.9,274.9 789.5,268.3 790.4,278.1 789.8,270.0 790.6,277.2 791.4,271.5 791.7,277.1 792.6,270.6 791.7,275.9 792.6,273.0 792.9,276.6 793.5,270.1 792.6,278.8 793.4,273.0 794.2,278.7 793.1,275.0 794.2,280.5 793.7,274.8 794.8,279.1 793.7,272.6 794.5,279.5 795.1,273.7 795.1,280.3 795.6,276.5 796.2,279.9 796.1,274.8 797.2,281.1 797.0,275.6 797.1,280.6 796.7,275.6 798.4,280.8 797.4,275.5 797.2,282.0 797.8,277.9 798.1,283.4 799.4,275.9 799.2,281.5 799.7,277.0 799.9,280.6 800.3,273.7 799.1,279.0 801.2,274.0 800.6,280.5 801.6,276.9 801.4,281.1 800.6,277.8 802.4,281.6 802.5,276.0 802.3,280.9 802.0,276.5 802.3,282.1 802.2,275.9 802.7,282.3 803.0,276.8 803.2,282.2 804.0,277.4 804.4,282.8 804.7,276.5 804.5,280.7 804.3,273.6 805.5,280.0 804.5,273.3 805.1,281.6 805.4,273.4 805.7,279.9 805.9,272.2 805.6,277.4 807.2,272.6 806.9,279.2 808.0,273.0 807.5,278.7 807.2,273.0 808.2,277.9 808.8,275.4 808.7,280.6 809.2,273.9 809.1,279.2 808.6,273.6 809.9,278.5 809.6,275.1 810.2,282.0 810.8,273.1 809.8,279.0 809.7,274.4 810.4,279.7 811.1,272.1 810.7,279.6 810.8,274.1 812.7,279.3 812.3,271.6 812.9,279.5 812.4,271.8 813.2,278.7 812.5,275.1 813.8,279.4 813.5,275.2 813.3,282.3 814.6,275.0 814.6,278.5 815.4,272.2 814.6,280.1 814.4,273.6 814.8,278.3 815.6,272.7 816.1,278.6 815.5,271.2 815.9,279.7 816.1,274.3 816.3,277.1 817.1,273.6 818.3,278.5 818.1,271.6 817.2,278.6 818.9,272.8 818.1,279.2 819.2,271.7 819.8,278.6 819.5,272.9 819.6,278.6 820.0,274.5 819.7,279.7 821.1,272.6 820.5,281.7 820.7,272.7 821.7,280.6 821.1,273.5 822.1,281.7 821.1,272.8 821.0,278.9 822.0,273.7 821.7,280.1 822.8,275.5 822.4,278.7 823.0,271.3 823.9,274.1 824.6,271.6 824.7,275.3 823.7,270.6 825.3,275.8 825.5,271.4 825.1,275.6 824.5,270.8 824.7,279.1 825.5,273.1 825.6,278.0 826.3,272.5 826.2,276.2 827.0,268.6 826.9,275.6 826.3,269.2 827.2,275.9 826.9,268.8 828.5,276.6 827.5,269.8 828.6,274.6 828.3,268.9 829.0,275.5 829.6,268.3 828.6,272.4 829.9,265.3 830.6,270.7 831.1,262.1 831.0,266.2 829.8,262.0 831.7,266.3 830.6,263.5 831.1,267.3 831.9,260.3 832.2,268.2 832.3,263.4 832.3,270.5 832.7,264.9 832.8,270.4 833.8,265.4 834.0,270.6 833.7,266.0 833.3,271.5 834.8,265.6 833.9,273.3 834.2,267.4 834.8,270.4 834.5,262.4 834.8,269.1 835.4,263.1 835.8,270.2 836.0,265.1 837.2,270.5 837.4,263.5 837.7,270.2 837.8,265.1 837.6,269.5 837.3,264.1 837.8,269.5 838.6,262.8 838.8,271.2 837.8,265.0 839.0,270.2 839.6,263.5 838.7,272.8 840.5,264.0 839.2,268.9 839.8,263.9 840.0,270.3 840.6,266.8 840.0,274.4 842.1,267.5 841.9,275.2 841.4,267.6 841.0,273.0 841.8,265.0 842.4,273.9 842.3,266.7 842.3,273.1 842.6,267.1 844.4,271.0 843.6,266.3 843.0,272.5 843.5,267.3 844.7,271.6 844.4,266.7 845.9,270.4 844.9,265.5 845.7,273.5 845.3,264.9 846.7,270.0 845.3,266.0 847.4,272.4 846.4,267.2 847.1,272.7 847.4,271.1 847.6,277.5 847.0,275.5 848.7,285.0 848.5,280.8 849.1,285.9 849.1,280.9 849.5,288.4 849.1,283.6 849.5,289.8 849.3,283.5 850.1,288.8 849.9,280.5 849.5,284.2 851.3,278.7 851.0,281.7 851.9,277.2 852.0,281.3 852.2,276.2 852.4,279.4 852.3,272.4 853.0,277.8 853.7,270.7 852.2,276.1 853.4,268.6 853.3,273.6 853.6,266.4 854.8,273.5 854.3,268.1 853.8,273.5 855.3,267.2 855.4,273.8 855.8,268.3 855.0,274.9 855.7,265.1 855.8,270.8 857.1,266.0 856.2,271.7 856.0,262.3 856.0,267.6 858.0,262.5 857.9,267.2 856.9,261.2 857.9,269.6 857.9,260.6 858.7,266.5 858.1,257.9 859.1,268.4 859.4,259.5 860.0,265.1 859.2,255.2 859.5,261.8 861.0,251.3 860.0,256.1 859.7,244.2 860.4,250.1 861.2,238.2 862.0,241.2 862.0,226.9 861.1,235.4 862.3,228.6 862.6,238.0 862.7,231.1 863.5,242.9 862.3,234.9 862.6,239.8 863.9,233.5 864.5,239.0 864.1,232.6 864.0,242.3 863.9,231.5 864.5,241.1 864.2,235.2 866.4,244.5 865.9,237.1 866.0,243.6 866.4,236.0 866.8,247.5 866.4,238.5 867.9,250.6 868.2,240.8 868.3,251.0 866.7,242.2 868.4,249.4 867.6,237.3 868.5,246.5 867.7,240.6 869.4,248.1 870.0,237.3 870.4,247.0 870.5,238.5 869.6,247.2 870.9,239.0 870.9,247.7 871.3,237.4 871.2,247.3 871.4,238.2 870.7,246.7 870.8,237.6 872.2,247.5 872.5,236.7 871.9,247.3 872.1,236.8 872.6,243.8 872.7,236.6 874.3,243.0 874.6,237.7 874.2,242.9 875.1,235.0 875.1,241.9 874.8,234.2 875.3,241.6 874.3,233.6 876.1,239.8 874.8,231.2 875.6,239.4 875.3,230.9 877.1,235.8 877.7,227.3 877.4,239.8 877.7,229.9 877.9,239.4 877.0,229.9 878.3,241.1 878.9,234.2 878.0,241.0 877.8,232.4 879.7,240.8 879.9,232.8 878.6,238.0 879.4,232.4 880.6,239.6 879.3,234.2 880.7,241.9 879.8,235.8 881.5,243.7 880.7,236.5 881.9,244.9 881.4,236.0 881.8,243.9 882.8,233.2 883.1,241.1 882.7,235.4 882.9,244.0 882.3,233.1 884.0,240.2 883.7,233.2 883.0,240.4 883.9,230.0 884.1,240.6 885.6,229.7 885.1,239.9 885.4,231.5 885.1,240.0 885.4,232.1 886.3,239.5 886.5,231.9 887.4,237.7 886.0,232.3 887.5,239.4 887.0,229.3 887.2,237.2 887.3,228.0 887.1,236.5 887.2,229.9 888.2,239.6 888.8,230.6 889.6,239.4 890.0,233.5 889.9,242.3 889.3,234.0 890.5,242.5 890.9,235.7 891.4,245.9 891.5,235.3 891.6,244.1 891.0,236.2 891.5,243.8 892.3,235.0 892.3,243.4 892.6,236.2 892.0,248.8 893.5,239.5 892.9,248.0 892.5,241.7 893.1,250.2 893.9,243.5 893.7,248.9 894.9,239.9 894.9,249.7 895.2,239.4 894.5,247.3 894.6,241.0 895.6,249.4 895.7,242.1 895.4,249.6 896.4,243.6 896.1,252.7 896.7,244.5 896.6,250.1 897.3,243.2 897.5,251.0 896.7,245.1 897.7,252.5 898.3,242.6 898.6,252.2 898.8,245.1 898.1,252.1 898.7,245.3 899.5,253.3 899.3,247.5 900.3,254.7 900.0,249.8 899.6,255.5 901.6,247.1 901.0,253.9 901.2,244.1 902.0,252.0 901.7,245.6 902.0,252.6 902.9,244.9 901.6,253.5 902.0,244.7 903.0,252.0 902.6,246.1 903.8,254.6 903.8,246.0 904.2,252.3 904.4,243.6 905.2,252.6 904.3,243.0 905.6,249.1 905.8,242.2 906.0,250.6 905.6,243.7 906.3,252.8 906.6,244.6 906.8,255.1 906.6,244.8 906.1,255.4 907.5,246.9 906.9,253.5 907.9,248.7 907.0,254.2 907.5,247.3 908.6,253.2 907.7,248.1 909.6,252.2 908.8,243.1 908.6,249.7 910.3,243.3 909.2,251.2 910.4,245.7 910.7,252.2 910.0,245.1 911.0,252.9 911.6,244.3 912.1,247.1 911.8,238.4 912.4,244.1 913.2,237.0 912.3,247.4 911.9,239.3 912.8,247.9 912.4,238.2 913.6,244.4 914.4,236.9 914.8,244.6 914.3,237.2 914.0,246.6 915.7,238.3 914.7,243.6 915.8,238.0 916.2,244.7 916.1,237.9 915.4,246.9 916.4,240.0 917.1,245.5 915.8,240.2 916.8,247.0 917.4,239.6 917.7,248.3 917.4,241.4 917.9,248.8 917.4,242.3 918.6,252.0 919.0,245.0 919.4,250.2 918.4,242.9 919.7,252.0 919.6,245.1 919.8,250.4 919.9,242.6 920.4,252.8 920.7,243.0 920.7,251.2 921.7,246.9 922.3,255.0 921.8,251.2 922.1,258.0 922.9,251.7 922.3,258.0 923.2,250.0 922.3,257.7 923.5,251.6 923.5,256.9 923.9,250.8 923.6,259.0 924.8,250.2 923.9,258.7 925.2,251.3 925.0,258.3 925.4,253.9 925.1,261.0 924.8,255.7 925.6,263.2 926.7,257.7 927.2,264.9 925.8,257.6 927.5,264.5 927.7,259.3 926.9,268.3 928.6,262.5 928.8,267.8 927.8,259.6 928.8,264.0 929.6,257.9 928.0,265.2 928.3,257.0 930.2,262.3 930.6,256.9 930.2,262.3 929.4,257.4 930.4,265.4 931.1,259.0 931.7,266.2 932.0,259.0 930.8,261.7 931.6,255.9 931.9,262.9 931.8,256.0 933.1,263.2 933.5,256.2 932.4,261.9 932.7,258.4 934.0,265.3 934.3,257.8 933.6,264.6 934.5,255.5 934.1,261.3 934.6,253.0 935.4,260.0 935.3,252.2 934.5,259.2 936.7,252.3 935.6,259.5 935.7,252.6 936.3,258.2 937.5,252.8 937.2,256.5 937.0,249.8 936.8,256.9 937.6,249.4 938.1,257.7 937.3,250.3 938.0,254.9 938.3,249.4 938.9,254.7 938.5,245.0 939.8,252.9 939.3,248.0 939.0,252.8 939.5,247.9 941.0,255.2 940.5,249.7 940.2,256.8 940.5,246.5 941.5,254.4 942.4,246.8 942.2,253.2 941.6,247.7 941.7,253.0 943.3,246.4 943.8,251.4 943.4,246.3 942.9,253.8 943.9,249.5 943.3,253.8 944.8,247.1 944.3,255.2 944.7,246.5 944.7,255.5 944.2,250.9 945.7,256.2 945.0,250.1 945.0,255.1 946.0,248.5 946.3,257.0 946.9,250.3 947.4,258.5 946.6,254.6 947.8,262.1 948.3,253.5 948.2,257.5 947.3,249.6 949.4,255.6 948.1,249.6 948.0,255.4 948.3,248.6 948.8,252.6 949.7,244.7 950.9,249.3 949.3,240.4 950.3,248.3 949.8,238.2 951.2,242.5 950.2,234.6 951.3,239.4 951.1,233.7 951.9,240.5 952.8,233.2 951.6,240.4 953.3,236.7 953.9,244.6 953.3,239.5 953.6,245.8 952.7,239.9 953.9,248.8 953.2,241.2 954.8,247.1 955.6,239.5 955.9,245.7 955.9,241.3 955.7,247.1 955.6,240.6 955.9,246.3 955.5,241.5 956.1,247.7 956.6,240.8 956.4,248.0 957.1,241.7 957.1,247.6 957.5,241.1 958.9,248.8 958.8,244.7 958.4,250.1 959.0,244.8 959.9,251.3 959.4,246.0 958.5,250.4 958.8,247.2 960.7,251.4 959.3,247.0 961.1,250.7 959.8,244.3 961.7,249.9 962.1,244.8 962.0,251.1 961.6,245.8 962.5,250.8 962.2,245.0 962.2,252.3 962.5,246.2 963.0,254.5 963.4,245.9 964.1,253.0 964.3,245.0 964.6,253.7 964.5,246.5 964.9,255.2 964.3,246.7 964.7,255.2 965.5,248.8 965.7,256.3 964.9,247.1 965.0,253.4 967.0,246.5 967.1,252.7 967.6,246.6 967.6,252.9 967.4,248.6 968.0,254.6 967.5,248.4 968.1,255.2 968.5,248.6 968.7,252.3 968.3,245.8 969.3,254.5 968.9,245.7 969.4,250.4 970.3,245.9 969.7,254.6 970.4,248.3 971.0,254.6 970.4,247.0 970.3,251.8 972.1,243.5 971.8,249.8 971.9,242.3 972.5,250.5 972.9,243.7 972.2,248.8 972.3,240.3 972.2,247.8 973.8,240.3 974.1,247.9 973.6,242.9 973.7,249.4 973.3,242.0 973.6,247.4 975.1,241.8 974.8,247.7 974.6,242.2 975.1,247.9 974.7,244.9 976.7,251.4 977.2,244.8 976.8,250.4 976.5,243.6 976.5,250.9 978.0,241.5 977.9,250.9 978.2,246.0 977.7,253.0 978.9,243.5 978.8,249.9 978.2,245.2 978.7,251.4 978.8,244.3 979.5,250.6 980.3,245.4 979.1,252.7 979.3,245.8 979.9,249.8 981.0,244.3 980.2,250.3 981.9,241.8 981.3,248.6 981.2,241.3 981.3,244.5 983.0,239.1 982.8,246.5 983.2,238.0 983.0,244.2 983.2,236.2 983.3,240.1 982.8,231.2 984.7,236.7 983.6,230.5 983.7,234.8 985.1,226.1 984.2,234.8 984.3,227.3 985.5,232.7 984.9,226.2 986.1,232.3 985.7,226.8 986.5,234.9 986.8,227.5 986.2,231.0 986.6,226.2 987.1,230.0 988.7,222.0 988.9,226.9 988.1,219.5 988.8,226.1 988.0,217.3 989.0,222.1 989.4,216.9 989.9,223.2 989.7,217.7 990.4,225.4 990.4,219.5 991.0,225.4 989.9,218.2 991.9,225.7 990.3,217.6 990.4,227.4 992.6,221.3 991.0,225.5 991.6,220.5 993.1,227.3 993.3,221.8 992.0,227.6 993.9,224.8 993.9,231.1 993.6,224.0 993.8,232.5 995.0,223.3 993.9,231.2 995.3,225.2 994.2,232.4 994.5,224.0 996.1,230.4 994.9,223.9 996.8,230.5 996.7,222.2 996.7,229.0 997.4,225.8 996.2,229.4 996.4,223.3 997.6,225.6 997.7,219.8 997.5,226.3 997.6,217.1 998.7,225.6 998.0,218.1 998.3,224.6 998.3,215.2 998.5,221.7 999.0,216.9 1000.6,220.9 1001.0,213.8 1000.8,220.9 999.9,214.2 1000.3,218.9 1000.2,210.7 1002.2,215.4 1001.1,209.1 1002.8,215.2 1002.4,207.8 1003.1,213.0 1001.8,208.6 1002.8,215.8 1004.0,208.5 1004.0,217.5 1003.4,209.3 1003.7,216.6 1004.8,212.6 1004.0,220.8 1005.6,213.2 1005.8,222.0 1004.3,215.4 1005.9,223.8 1006.6,214.3 1005.9,222.2 1006.4,215.5 1007.2,223.0 1006.8,217.1 1006.3,223.0 1007.4,213.8 1007.9,221.0 1007.9,216.5 1007.2,223.3 1007.4,215.0 1007.7,224.2 1008.5,217.1 1009.5,222.4 1010.1,217.2 1008.7,223.9 1009.5,216.6 1009.8,224.5 1009.6,214.0 1009.6,219.2 1009.8,212.1 1010.0,220.1 1011.6,214.3 1010.5,217.0 1012.1,211.3 1012.1,217.2 1012.4,209.5 1012.7,218.3 1012.3,210.4 1013.2,216.8 1012.2,209.1 1014.2,212.7 1013.8,206.6 1013.9,213.3 1014.7,206.5 1013.6,215.5 1014.9,206.3 1015.8,214.0 1016.2,213.7 1015.6,222.1 1015.3,215.6 1016.0,225.5 1015.5,217.7 1015.6,224.0 1017.4,219.6 1016.0,227.1 1018.2,220.3 1016.8,230.8 1018.4,217.7 1017.5,220.3 1017.7,209.5 1018.4,212.5 1018.6,205.5 1018.7,212.5 1018.2,206.6 1020.1,215.3 1019.1,209.1 1019.9,216.7 1019.7,209.8 1019.7,216.3 1020.8,208.7 1021.7,215.8 1020.8,207.9 1020.6,214.9 1021.0,206.1 1021.2,213.1 1023.0,205.6 1021.5,208.9 1022.0,200.4 1023.8,208.3 1023.7,201.9 1023.9,210.5 1024.2,201.0 1024.3,206.1 1024.9,199.4 1024.4,203.8 1024.8,197.8 1024.1,201.8 1025.1,194.7 1025.9,199.8 1025.5,194.7 1026.9,200.6 1025.8,196.6 1026.4,203.1 1026.0,195.0 1027.7,200.9 1026.9,191.8 1027.8,200.1 1027.5,191.5 1028.3,196.7 1027.8,189.5 1028.0,198.0 1029.3,190.9 1028.0,196.7 1029.8,187.7 1030.2,195.1 1029.9,190.1 1030.8,195.8 1030.6,188.0 1029.7,194.5 1031.7,184.3 1030.0,190.8 1030.9,182.4 1031.7,187.7 1031.4,179.9 1032.6,183.8 1033.0,175.5 1032.3,180.2 1033.0,168.7 1033.5,170.7 1032.8,161.1 1032.9,164.7 1032.9,156.0 1034.4,158.1 1035.0,146.6 1034.0,151.0 1035.6,141.7 1034.0,146.9 1035.5,141.5 1034.6,148.9 1035.1,143.8 1035.3,150.9 1035.9,143.6 1036.1,152.8 1037.5,149.3 1037.1,158.9 1037.2,152.2" stroke="#e8553b" stroke-width="3.2"/>
</g>
<!-- watermark -->
<circle cx="308.9" cy="288.9" r="38.6" fill="#00c8aa" fill-opacity="0.17" mask="url(#mt)"/>
<g opacity="0.27">
<text x="362.07" y="307.4" font-size="51.2" fill="#969aa2" textLength="163.50" lengthAdjust="spacingAndGlyphs" stroke="#969aa2" stroke-width="1.9" stroke-linejoin="round">Macro</text>
<text x="525.62" y="307.4" font-size="51.2" fill="#969aa2" textLength="148.54" lengthAdjust="spacingAndGlyphs" stroke="#969aa2" stroke-width="1.9" stroke-linejoin="round">Micro</text>
</g>
<!-- axis labels -->
<g font-size="22.4" fill="#666666">
<text x="110.6" y="126.4" text-anchor="end" textLength="14.6" lengthAdjust="spacingAndGlyphs">6</text>
<text x="110.6" y="234.4" text-anchor="end" textLength="14.6" lengthAdjust="spacingAndGlyphs">3</text>
<text x="110.6" y="342.4" text-anchor="end" textLength="14.6" lengthAdjust="spacingAndGlyphs">0</text>
<text x="236.5" y="126.4" text-anchor="end" textLength="48.5" lengthAdjust="spacingAndGlyphs">10M</text>
<text x="236.5" y="234.4" text-anchor="end" textLength="34.4" lengthAdjust="spacingAndGlyphs">5M</text>
<text x="236.5" y="342.4" text-anchor="end" textLength="14.6" lengthAdjust="spacingAndGlyphs">0</text>
<text x="1073.6" y="126.4" textLength="29" lengthAdjust="spacingAndGlyphs">60</text>
<text x="1073.6" y="234.4" textLength="29" lengthAdjust="spacingAndGlyphs">30</text>
<text x="1073.6" y="342.4" textLength="14.6" lengthAdjust="spacingAndGlyphs">0</text>
<text x="340.4" y="384" text-anchor="middle" textLength="56.4" lengthAdjust="spacingAndGlyphs">2005</text>
<text x="507.4" y="384" text-anchor="middle" textLength="56.4" lengthAdjust="spacingAndGlyphs">2010</text>
<text x="674.4" y="384" text-anchor="middle" textLength="56.4" lengthAdjust="spacingAndGlyphs">2015</text>
<text x="841.6" y="384" text-anchor="middle" textLength="56.4" lengthAdjust="spacingAndGlyphs">2020</text>
<text x="1008.8" y="384" text-anchor="middle" textLength="56.4" lengthAdjust="spacingAndGlyphs">2025</text>
</g>
<g font-size="24.5" fill="#666666">
<text transform="translate(77,223.2) rotate(-90)" text-anchor="middle" textLength="145" lengthAdjust="spacingAndGlyphs">Percent (L2)</text>
<text transform="translate(169.4,223.2) rotate(-90)" text-anchor="middle" textLength="145" lengthAdjust="spacingAndGlyphs">Millions (L1)</text>
<text transform="translate(1122.6,224.4) rotate(90)" text-anchor="middle" textLength="162" lengthAdjust="spacingAndGlyphs">Number, USD</text>
</g>
<!-- legend -->
<g stroke-width="4">
<line x1="320" y1="446" x2="352" y2="446" stroke="#3aaedc"/>
<line x1="320" y1="488" x2="352" y2="488" stroke="#f4b73e"/>
<line x1="320" y1="530" x2="352" y2="530" stroke="#6cc860"/>
<line x1="320" y1="572" x2="352" y2="572" stroke="#e8553b"/>
</g>
<text x="361.54" y="454.2" font-size="29" fill="#000000" textLength="38.95" lengthAdjust="spacingAndGlyphs">US</text>
<text x="408.54" y="454.2" font-size="29" fill="#000000" textLength="10.91" lengthAdjust="spacingAndGlyphs">-</text>
<text x="427.64" y="454.2" font-size="29" fill="#000000" textLength="49.51" lengthAdjust="spacingAndGlyphs">Fed</text>
<text x="486.03" y="454.2" font-size="29" fill="#000000" textLength="65.95" lengthAdjust="spacingAndGlyphs">Total</text>
<text x="561.64" y="454.2" font-size="29" fill="#000000" textLength="90.25" lengthAdjust="spacingAndGlyphs">Assets</text>
<text x="660.56" y="454.2" font-size="29" fill="#000000" textLength="55.58" lengthAdjust="spacingAndGlyphs">(L1)</text>
<text x="361.54" y="496.2" font-size="29" fill="#000000" textLength="38.95" lengthAdjust="spacingAndGlyphs">US</text>
<text x="408.54" y="496.2" font-size="29" fill="#000000" textLength="10.91" lengthAdjust="spacingAndGlyphs">-</text>
<text x="427.48" y="496.2" font-size="29" fill="#000000" textLength="104.18" lengthAdjust="spacingAndGlyphs">Federal</text>
<text x="539.98" y="496.2" font-size="29" fill="#000000" textLength="82.09" lengthAdjust="spacingAndGlyphs">Funds</text>
<text x="631.18" y="496.2" font-size="29" fill="#000000" textLength="64.99" lengthAdjust="spacingAndGlyphs">Rate</text>
<text x="704.36" y="496.2" font-size="29" fill="#000000" textLength="121.75" lengthAdjust="spacingAndGlyphs">(Weekly,</text>
<text x="833.71" y="496.2" font-size="29" fill="#000000" textLength="45.65" lengthAdjust="spacingAndGlyphs">L2)</text>
<text x="361.54" y="538.2" font-size="29" fill="#000000" textLength="38.95" lengthAdjust="spacingAndGlyphs">US</text>
<text x="408.54" y="538.2" font-size="29" fill="#000000" textLength="10.91" lengthAdjust="spacingAndGlyphs">-</text>
<text x="428.41" y="538.2" font-size="29" fill="#000000" textLength="102.06" lengthAdjust="spacingAndGlyphs">10-Year</text>
<text x="538.23" y="538.2" font-size="29" fill="#000000" textLength="117.83" lengthAdjust="spacingAndGlyphs">Treasury</text>
<text x="667.05" y="538.2" font-size="29" fill="#000000" textLength="65.96" lengthAdjust="spacingAndGlyphs">Yield</text>
<text x="741.53" y="538.2" font-size="29" fill="#000000" textLength="56.44" lengthAdjust="spacingAndGlyphs">(L2)</text>
<text x="361.72" y="580.2" font-size="29" fill="#000000" textLength="98.86" lengthAdjust="spacingAndGlyphs">NYMEX</text>
<text x="469.54" y="580.2" font-size="29" fill="#000000" textLength="10.91" lengthAdjust="spacingAndGlyphs">-</text>
<text x="489.58" y="580.2" font-size="29" fill="#000000" textLength="77.93" lengthAdjust="spacingAndGlyphs">Silver</text>
<text x="575.45" y="580.2" font-size="29" fill="#000000" textLength="105.27" lengthAdjust="spacingAndGlyphs">Futures</text>
<text x="688.51" y="580.2" font-size="29" fill="#000000" textLength="69.24" lengthAdjust="spacingAndGlyphs">Price</text>
<text x="766.23" y="580.2" font-size="29" fill="#000000" textLength="39.53" lengthAdjust="spacingAndGlyphs">(R)</text>
</svg>
</body></html>
